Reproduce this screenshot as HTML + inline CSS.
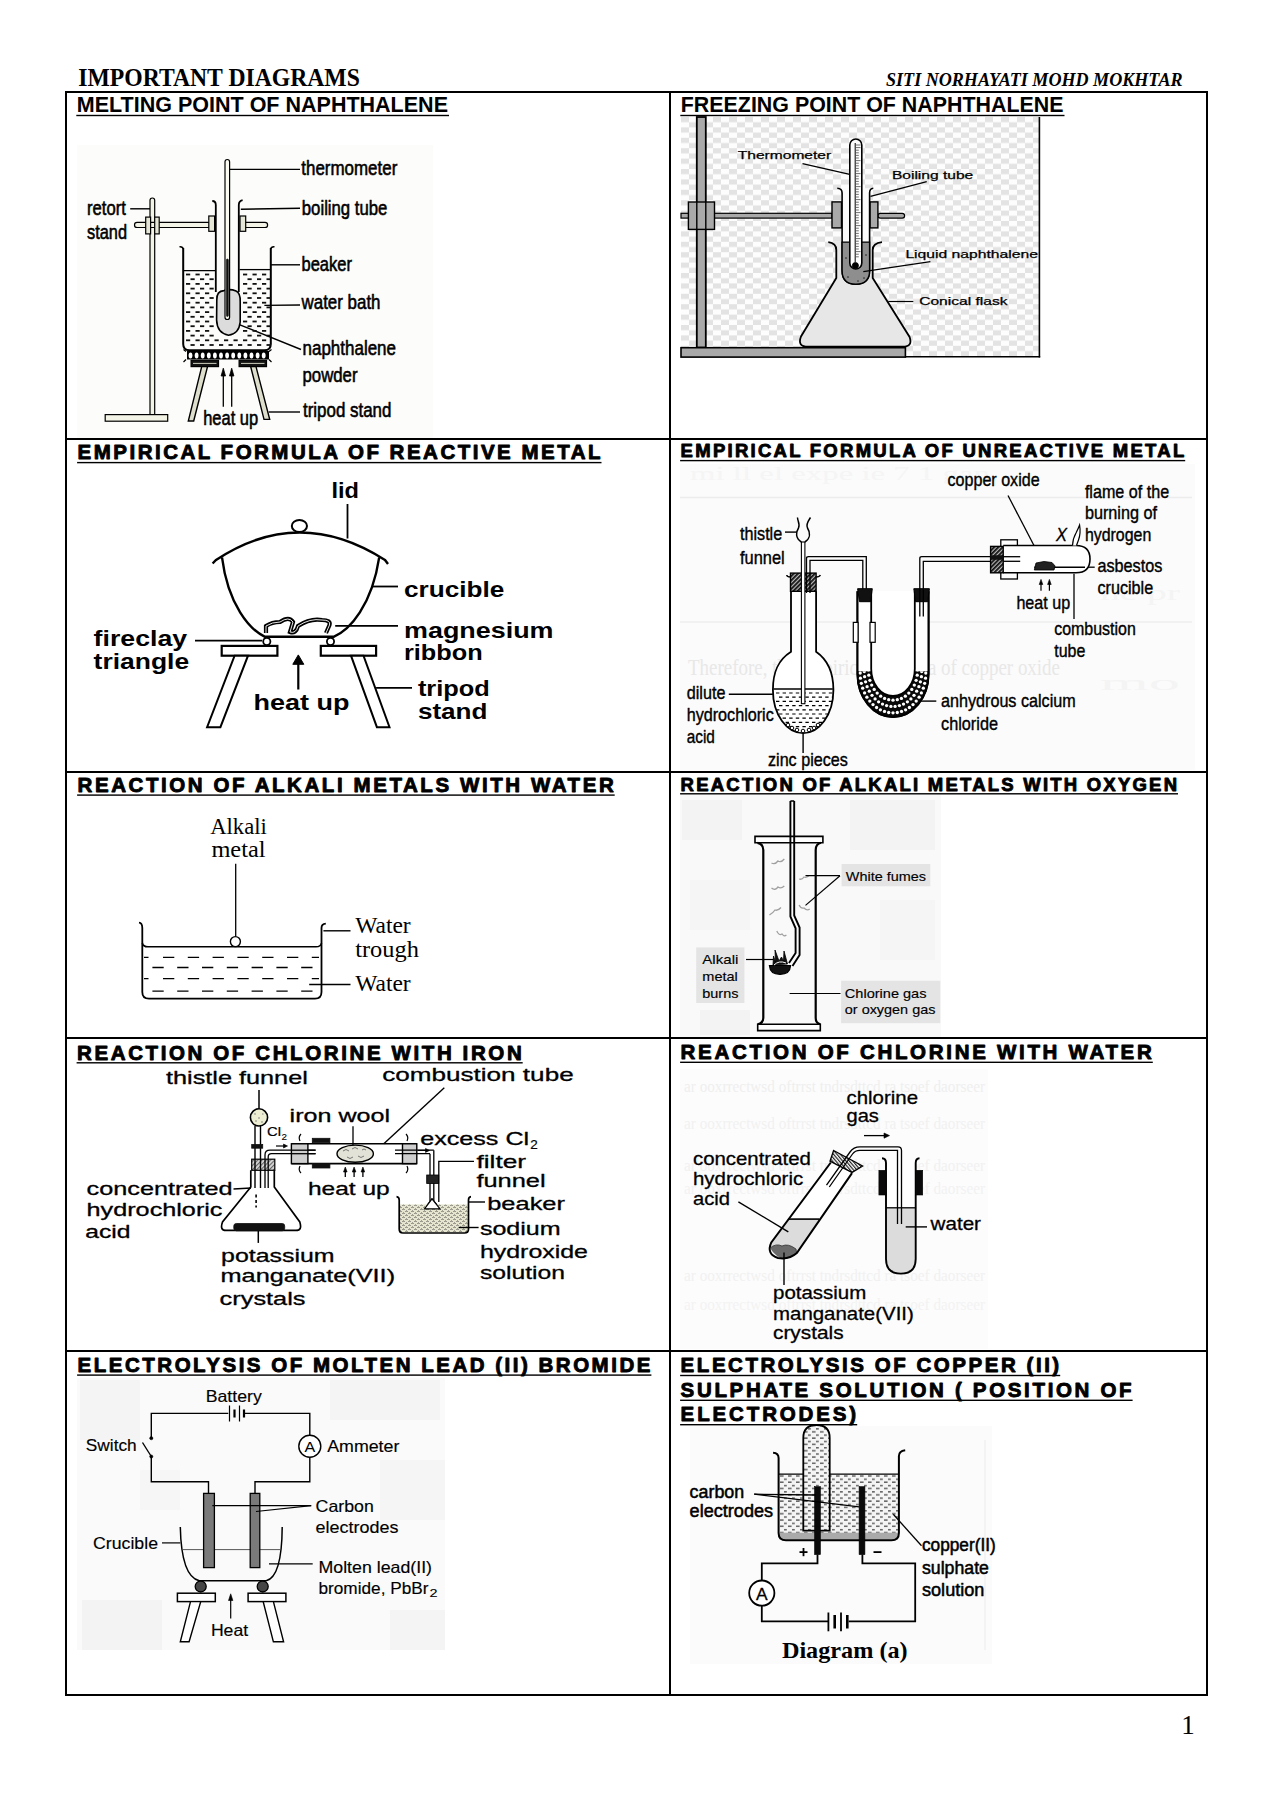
<!DOCTYPE html>
<html><head><meta charset="utf-8"><title>Important Diagrams</title>
<style>
html,body{margin:0;padding:0;background:#fff;}
body{width:1272px;height:1800px;position:relative;overflow:hidden;font-family:"Liberation Sans",sans-serif;}
.ln{position:absolute;background:#000;}
.hdr{position:absolute;font-family:"Liberation Serif",serif;font-weight:bold;white-space:nowrap;line-height:1;}
svg{position:absolute;left:0;top:0;}
</style></head><body>
<div class="ln" style="left:65px;top:91px;width:1143px;height:2px"></div>
<div class="ln" style="left:65px;top:1694px;width:1143px;height:2px"></div>
<div class="ln" style="left:65px;top:91px;width:2px;height:1605px"></div>
<div class="ln" style="left:1206px;top:91px;width:2px;height:1605px"></div>
<div class="ln" style="left:669px;top:91px;width:2px;height:1605px"></div>
<div class="ln" style="left:65px;top:438px;width:1143px;height:2px"></div>
<div class="ln" style="left:65px;top:771px;width:1143px;height:2px"></div>
<div class="ln" style="left:65px;top:1037px;width:1143px;height:2px"></div>
<div class="ln" style="left:65px;top:1350px;width:1143px;height:2px"></div>
<svg width="1272" height="1800" viewBox="0 0 1272 1800">
<text x="78.3" y="85.8" font-size="25.5" font-weight="bold" font-family='"Liberation Serif", serif' textLength="281.5" lengthAdjust="spacingAndGlyphs">IMPORTANT DIAGRAMS</text>
<text x="886" y="85.8" font-size="18.5" font-weight="bold" font-style="italic" font-family='"Liberation Serif", serif' textLength="296.5" lengthAdjust="spacingAndGlyphs">SITI NORHAYATI MOHD MOKHTAR</text>
<text x="1181.2" y="1734" font-size="27" font-family='"Liberation Serif", serif'>1</text>
<text x="76.8" y="112.2" font-size="21.8" font-weight="bold" font-family='"Liberation Sans", sans-serif' fill="#000" textLength="371.2" lengthAdjust="spacingAndGlyphs">MELTING POINT OF NAPHTHALENE</text>
<rect x="76.3" y="114.8" width="372.7" height="1.4" fill="#000"/>
<text x="680.8" y="112.2" font-size="21.8" font-weight="bold" font-family='"Liberation Sans", sans-serif' fill="#000" textLength="382.7" lengthAdjust="spacingAndGlyphs">FREEZING POINT OF NAPHTHALENE</text>
<rect x="680.3" y="114.8" width="384.2" height="1.4" fill="#000"/>
<text x="77.6" y="459.3" font-size="20.5" font-weight="bold" font-family='"Liberation Sans", sans-serif' fill="#000" stroke="#000" stroke-width="0.9" stroke-linejoin="round" textLength="522.9" lengthAdjust="spacing">EMPIRICAL FORMULA OF REACTIVE METAL</text>
<rect x="77.1" y="461.9" width="524.4" height="1.4" fill="#000"/>
<text x="680.6" y="457.3" font-size="18.5" font-weight="bold" font-family='"Liberation Sans", sans-serif' fill="#000" stroke="#000" stroke-width="0.9" stroke-linejoin="round" textLength="503.6" lengthAdjust="spacing">EMPIRICAL FORMULA OF UNREACTIVE METAL</text>
<rect x="680.1" y="459.9" width="505.1" height="1.4" fill="#000"/>
<text x="77.6" y="791.8" font-size="20.5" font-weight="bold" font-family='"Liberation Sans", sans-serif' fill="#000" stroke="#000" stroke-width="0.9" stroke-linejoin="round" textLength="536.1" lengthAdjust="spacing">REACTION OF ALKALI METALS WITH WATER</text>
<rect x="77.1" y="794.4" width="537.6" height="1.4" fill="#000"/>
<text x="680.6" y="790.5" font-size="18.5" font-weight="bold" font-family='"Liberation Sans", sans-serif' fill="#000" stroke="#000" stroke-width="0.9" stroke-linejoin="round" textLength="496.4" lengthAdjust="spacing">REACTION OF ALKALI METALS WITH OXYGEN</text>
<rect x="680.1" y="793.1" width="497.9" height="1.4" fill="#000"/>
<text x="77.1" y="1059.5" font-size="20.5" font-weight="bold" font-family='"Liberation Sans", sans-serif' fill="#000" stroke="#000" stroke-width="0.9" stroke-linejoin="round" textLength="444.6" lengthAdjust="spacing">REACTION OF CHLORINE WITH IRON</text>
<rect x="76.6" y="1062.1" width="446.1" height="1.4" fill="#000"/>
<text x="680.6" y="1059.0" font-size="20.5" font-weight="bold" font-family='"Liberation Sans", sans-serif' fill="#000" stroke="#000" stroke-width="0.9" stroke-linejoin="round" textLength="471.2" lengthAdjust="spacing">REACTION OF CHLORINE WITH WATER</text>
<rect x="680.1" y="1061.6" width="472.7" height="1.4" fill="#000"/>
<text x="77.6" y="1371.8" font-size="20.5" font-weight="bold" font-family='"Liberation Sans", sans-serif' fill="#000" stroke="#000" stroke-width="0.9" stroke-linejoin="round" textLength="572.8" lengthAdjust="spacing">ELECTROLYSIS OF MOLTEN LEAD (II) BROMIDE</text>
<rect x="77.1" y="1374.4" width="574.3" height="1.4" fill="#000"/>
<text x="680.6" y="1372.2" font-size="20.5" font-weight="bold" font-family='"Liberation Sans", sans-serif' fill="#000" stroke="#000" stroke-width="0.9" stroke-linejoin="round" textLength="378.6" lengthAdjust="spacing">ELECTROLYSIS OF COPPER (II)</text>
<rect x="680.1" y="1374.8" width="380.1" height="1.4" fill="#000"/>
<text x="680.6" y="1397.0" font-size="20.5" font-weight="bold" font-family='"Liberation Sans", sans-serif' fill="#000" stroke="#000" stroke-width="0.9" stroke-linejoin="round" textLength="451.0" lengthAdjust="spacing">SULPHATE SOLUTION ( POSITION OF</text>
<rect x="680.1" y="1399.6" width="452.5" height="1.4" fill="#000"/>
<text x="680.6" y="1421.4" font-size="20.5" font-weight="bold" font-family='"Liberation Sans", sans-serif' fill="#000" stroke="#000" stroke-width="0.9" stroke-linejoin="round" textLength="175.6" lengthAdjust="spacing">ELECTRODES)</text>
<rect x="680.1" y="1424.0" width="177.1" height="1.4" fill="#000"/>
<rect x="77" y="145" width="356" height="293" fill="#fcfcfa"/>
<text x="301.3" y="174.7" font-size="21" font-weight="normal" font-style="normal" font-family='"Liberation Sans", sans-serif' fill="#000" textLength="96.0" lengthAdjust="spacingAndGlyphs" stroke="#000" stroke-width="0.6" stroke-linejoin="round" >thermometer</text>
<text x="301.8" y="214.6" font-size="21" font-weight="normal" font-style="normal" font-family='"Liberation Sans", sans-serif' fill="#000" textLength="85.6" lengthAdjust="spacingAndGlyphs" stroke="#000" stroke-width="0.6" stroke-linejoin="round" >boiling tube</text>
<text x="301.5" y="270.7" font-size="21" font-weight="normal" font-style="normal" font-family='"Liberation Sans", sans-serif' fill="#000" textLength="50.5" lengthAdjust="spacingAndGlyphs" stroke="#000" stroke-width="0.6" stroke-linejoin="round" >beaker</text>
<text x="301.5" y="309.4" font-size="21" font-weight="normal" font-style="normal" font-family='"Liberation Sans", sans-serif' fill="#000" textLength="79.0" lengthAdjust="spacingAndGlyphs" stroke="#000" stroke-width="0.6" stroke-linejoin="round" >water bath</text>
<text x="302.5" y="354.6" font-size="21" font-weight="normal" font-style="normal" font-family='"Liberation Sans", sans-serif' fill="#000" textLength="93.5" lengthAdjust="spacingAndGlyphs" stroke="#000" stroke-width="0.6" stroke-linejoin="round" >naphthalene</text>
<text x="302.5" y="382.0" font-size="21" font-weight="normal" font-style="normal" font-family='"Liberation Sans", sans-serif' fill="#000" textLength="55.0" lengthAdjust="spacingAndGlyphs" stroke="#000" stroke-width="0.6" stroke-linejoin="round" >powder</text>
<text x="303.0" y="416.6" font-size="21" font-weight="normal" font-style="normal" font-family='"Liberation Sans", sans-serif' fill="#000" textLength="88.4" lengthAdjust="spacingAndGlyphs" stroke="#000" stroke-width="0.6" stroke-linejoin="round" >tripod stand</text>
<text x="87.0" y="215.4" font-size="21" font-weight="normal" font-style="normal" font-family='"Liberation Sans", sans-serif' fill="#000" textLength="38.8" lengthAdjust="spacingAndGlyphs" stroke="#000" stroke-width="0.6" stroke-linejoin="round" >retort</text>
<text x="87.0" y="239.0" font-size="21" font-weight="normal" font-style="normal" font-family='"Liberation Sans", sans-serif' fill="#000" textLength="40.0" lengthAdjust="spacingAndGlyphs" stroke="#000" stroke-width="0.6" stroke-linejoin="round" >stand</text>
<text x="203.2" y="425.2" font-size="21" font-weight="normal" font-style="normal" font-family='"Liberation Sans", sans-serif' fill="#000" textLength="55.0" lengthAdjust="spacingAndGlyphs" stroke="#000" stroke-width="0.6" stroke-linejoin="round" >heat up</text>
<line x1="229.6" y1="169.4" x2="300.0" y2="169.4" stroke="#000" stroke-width="1.4" />
<line x1="240.8" y1="209.2" x2="300.0" y2="208.2" stroke="#000" stroke-width="1.4" />
<line x1="130.2" y1="208.8" x2="150.0" y2="208.8" stroke="#000" stroke-width="1.4" />
<line x1="270.8" y1="264.8" x2="300.0" y2="264.8" stroke="#000" stroke-width="1.4" />
<line x1="264.4" y1="305.4" x2="300.0" y2="305.0" stroke="#000" stroke-width="1.4" />
<line x1="232.3" y1="321.8" x2="301.0" y2="349.5" stroke="#000" stroke-width="1.4" />
<line x1="268.7" y1="412.0" x2="300.0" y2="412.0" stroke="#000" stroke-width="1.4" />
<rect x="150.0" y="198.0" width="4.7" height="218.0" fill="#f3f3e6" stroke="#000" stroke-width="1.2" rx="2.3"/>
<rect x="105.2" y="414.6" width="62.5" height="6.6" fill="#f3f3e6" stroke="#000" stroke-width="1.2" />
<rect x="134.5" y="222.3" width="76.0" height="5.2" fill="#f3f3e6" stroke="#000" stroke-width="1.2" rx="2.6"/>
<rect x="243.0" y="222.3" width="24.6" height="5.2" fill="#f3f3e6" stroke="#000" stroke-width="1.2" rx="2.6"/>
<rect x="145.7" y="217.1" width="4.9" height="16.8" fill="#e6e6d6" stroke="#000" stroke-width="1.2" />
<rect x="154.7" y="217.1" width="4.5" height="16.8" fill="#e6e6d6" stroke="#000" stroke-width="1.2" />
<rect x="208.8" y="216.0" width="5.8" height="15.3" fill="#e6e6d6" stroke="#000" stroke-width="1.2" />
<rect x="240.0" y="216.0" width="5.7" height="15.3" fill="#e6e6d6" stroke="#000" stroke-width="1.2" />
<path d="M183.2,248 L183.2,344 Q183.2,350.3 189.5,350.3 L264.5,350.3 Q270.8,350.3 270.8,344 L270.8,248" stroke="#000" stroke-width="2.0" fill="none" />
<path d="M183.2,249 Q182.8,246.5 179.5,246.8" stroke="#000" stroke-width="1.4" fill="none" />
<path d="M270.8,249 Q271.2,246.5 274.5,246.8" stroke="#000" stroke-width="1.4" fill="none" />
<line x1="183.2" y1="270.6" x2="215.9" y2="270.6" stroke="#000" stroke-width="1.3" />
<line x1="239.6" y1="269.6" x2="270.8" y2="269.6" stroke="#000" stroke-width="1.3" />
<line x1="186.0" y1="274.5" x2="190.2" y2="274.5" stroke="#111" stroke-width="1.8" />
<line x1="195.5" y1="274.5" x2="199.7" y2="274.5" stroke="#111" stroke-width="1.8" />
<line x1="205.0" y1="274.5" x2="209.2" y2="274.5" stroke="#111" stroke-width="1.8" />
<line x1="243.0" y1="274.5" x2="247.2" y2="274.5" stroke="#111" stroke-width="1.8" />
<line x1="252.5" y1="274.5" x2="256.7" y2="274.5" stroke="#111" stroke-width="1.8" />
<line x1="262.0" y1="274.5" x2="266.2" y2="274.5" stroke="#111" stroke-width="1.8" />
<line x1="190.5" y1="279.2" x2="194.7" y2="279.2" stroke="#111" stroke-width="1.8" />
<line x1="200.0" y1="279.2" x2="204.2" y2="279.2" stroke="#111" stroke-width="1.8" />
<line x1="209.5" y1="279.2" x2="213.7" y2="279.2" stroke="#111" stroke-width="1.8" />
<line x1="247.5" y1="279.2" x2="251.7" y2="279.2" stroke="#111" stroke-width="1.8" />
<line x1="257.0" y1="279.2" x2="261.2" y2="279.2" stroke="#111" stroke-width="1.8" />
<line x1="266.5" y1="279.2" x2="270.7" y2="279.2" stroke="#111" stroke-width="1.8" />
<line x1="186.0" y1="283.9" x2="190.2" y2="283.9" stroke="#111" stroke-width="1.8" />
<line x1="195.5" y1="283.9" x2="199.7" y2="283.9" stroke="#111" stroke-width="1.8" />
<line x1="205.0" y1="283.9" x2="209.2" y2="283.9" stroke="#111" stroke-width="1.8" />
<line x1="243.0" y1="283.9" x2="247.2" y2="283.9" stroke="#111" stroke-width="1.8" />
<line x1="252.5" y1="283.9" x2="256.7" y2="283.9" stroke="#111" stroke-width="1.8" />
<line x1="262.0" y1="283.9" x2="266.2" y2="283.9" stroke="#111" stroke-width="1.8" />
<line x1="190.5" y1="288.6" x2="194.7" y2="288.6" stroke="#111" stroke-width="1.8" />
<line x1="200.0" y1="288.6" x2="204.2" y2="288.6" stroke="#111" stroke-width="1.8" />
<line x1="209.5" y1="288.6" x2="213.7" y2="288.6" stroke="#111" stroke-width="1.8" />
<line x1="247.5" y1="288.6" x2="251.7" y2="288.6" stroke="#111" stroke-width="1.8" />
<line x1="257.0" y1="288.6" x2="261.2" y2="288.6" stroke="#111" stroke-width="1.8" />
<line x1="266.5" y1="288.6" x2="270.7" y2="288.6" stroke="#111" stroke-width="1.8" />
<line x1="186.0" y1="293.3" x2="190.2" y2="293.3" stroke="#111" stroke-width="1.8" />
<line x1="195.5" y1="293.3" x2="199.7" y2="293.3" stroke="#111" stroke-width="1.8" />
<line x1="205.0" y1="293.3" x2="209.2" y2="293.3" stroke="#111" stroke-width="1.8" />
<line x1="243.0" y1="293.3" x2="247.2" y2="293.3" stroke="#111" stroke-width="1.8" />
<line x1="252.5" y1="293.3" x2="256.7" y2="293.3" stroke="#111" stroke-width="1.8" />
<line x1="262.0" y1="293.3" x2="266.2" y2="293.3" stroke="#111" stroke-width="1.8" />
<line x1="190.5" y1="298.0" x2="194.7" y2="298.0" stroke="#111" stroke-width="1.8" />
<line x1="200.0" y1="298.0" x2="204.2" y2="298.0" stroke="#111" stroke-width="1.8" />
<line x1="209.5" y1="298.0" x2="213.7" y2="298.0" stroke="#111" stroke-width="1.8" />
<line x1="247.5" y1="298.0" x2="251.7" y2="298.0" stroke="#111" stroke-width="1.8" />
<line x1="257.0" y1="298.0" x2="261.2" y2="298.0" stroke="#111" stroke-width="1.8" />
<line x1="266.5" y1="298.0" x2="270.7" y2="298.0" stroke="#111" stroke-width="1.8" />
<line x1="186.0" y1="302.7" x2="190.2" y2="302.7" stroke="#111" stroke-width="1.8" />
<line x1="195.5" y1="302.7" x2="199.7" y2="302.7" stroke="#111" stroke-width="1.8" />
<line x1="205.0" y1="302.7" x2="209.2" y2="302.7" stroke="#111" stroke-width="1.8" />
<line x1="243.0" y1="302.7" x2="247.2" y2="302.7" stroke="#111" stroke-width="1.8" />
<line x1="252.5" y1="302.7" x2="256.7" y2="302.7" stroke="#111" stroke-width="1.8" />
<line x1="262.0" y1="302.7" x2="266.2" y2="302.7" stroke="#111" stroke-width="1.8" />
<line x1="190.5" y1="307.4" x2="194.7" y2="307.4" stroke="#111" stroke-width="1.8" />
<line x1="200.0" y1="307.4" x2="204.2" y2="307.4" stroke="#111" stroke-width="1.8" />
<line x1="209.5" y1="307.4" x2="213.7" y2="307.4" stroke="#111" stroke-width="1.8" />
<line x1="247.5" y1="307.4" x2="251.7" y2="307.4" stroke="#111" stroke-width="1.8" />
<line x1="257.0" y1="307.4" x2="261.2" y2="307.4" stroke="#111" stroke-width="1.8" />
<line x1="266.5" y1="307.4" x2="270.7" y2="307.4" stroke="#111" stroke-width="1.8" />
<line x1="186.0" y1="312.1" x2="190.2" y2="312.1" stroke="#111" stroke-width="1.8" />
<line x1="195.5" y1="312.1" x2="199.7" y2="312.1" stroke="#111" stroke-width="1.8" />
<line x1="205.0" y1="312.1" x2="209.2" y2="312.1" stroke="#111" stroke-width="1.8" />
<line x1="243.0" y1="312.1" x2="247.2" y2="312.1" stroke="#111" stroke-width="1.8" />
<line x1="252.5" y1="312.1" x2="256.7" y2="312.1" stroke="#111" stroke-width="1.8" />
<line x1="262.0" y1="312.1" x2="266.2" y2="312.1" stroke="#111" stroke-width="1.8" />
<line x1="190.5" y1="316.8" x2="194.7" y2="316.8" stroke="#111" stroke-width="1.8" />
<line x1="200.0" y1="316.8" x2="204.2" y2="316.8" stroke="#111" stroke-width="1.8" />
<line x1="209.5" y1="316.8" x2="213.7" y2="316.8" stroke="#111" stroke-width="1.8" />
<line x1="247.5" y1="316.8" x2="251.7" y2="316.8" stroke="#111" stroke-width="1.8" />
<line x1="257.0" y1="316.8" x2="261.2" y2="316.8" stroke="#111" stroke-width="1.8" />
<line x1="266.5" y1="316.8" x2="270.7" y2="316.8" stroke="#111" stroke-width="1.8" />
<line x1="186.0" y1="321.5" x2="190.2" y2="321.5" stroke="#111" stroke-width="1.8" />
<line x1="195.5" y1="321.5" x2="199.7" y2="321.5" stroke="#111" stroke-width="1.8" />
<line x1="205.0" y1="321.5" x2="209.2" y2="321.5" stroke="#111" stroke-width="1.8" />
<line x1="243.0" y1="321.5" x2="247.2" y2="321.5" stroke="#111" stroke-width="1.8" />
<line x1="252.5" y1="321.5" x2="256.7" y2="321.5" stroke="#111" stroke-width="1.8" />
<line x1="262.0" y1="321.5" x2="266.2" y2="321.5" stroke="#111" stroke-width="1.8" />
<line x1="190.5" y1="326.2" x2="194.7" y2="326.2" stroke="#111" stroke-width="1.8" />
<line x1="200.0" y1="326.2" x2="204.2" y2="326.2" stroke="#111" stroke-width="1.8" />
<line x1="209.5" y1="326.2" x2="213.7" y2="326.2" stroke="#111" stroke-width="1.8" />
<line x1="247.5" y1="326.2" x2="251.7" y2="326.2" stroke="#111" stroke-width="1.8" />
<line x1="257.0" y1="326.2" x2="261.2" y2="326.2" stroke="#111" stroke-width="1.8" />
<line x1="266.5" y1="326.2" x2="270.7" y2="326.2" stroke="#111" stroke-width="1.8" />
<line x1="186.0" y1="330.9" x2="190.2" y2="330.9" stroke="#111" stroke-width="1.8" />
<line x1="195.5" y1="330.9" x2="199.7" y2="330.9" stroke="#111" stroke-width="1.8" />
<line x1="205.0" y1="330.9" x2="209.2" y2="330.9" stroke="#111" stroke-width="1.8" />
<line x1="243.0" y1="330.9" x2="247.2" y2="330.9" stroke="#111" stroke-width="1.8" />
<line x1="252.5" y1="330.9" x2="256.7" y2="330.9" stroke="#111" stroke-width="1.8" />
<line x1="262.0" y1="330.9" x2="266.2" y2="330.9" stroke="#111" stroke-width="1.8" />
<line x1="190.5" y1="335.6" x2="194.7" y2="335.6" stroke="#111" stroke-width="1.8" />
<line x1="200.0" y1="335.6" x2="204.2" y2="335.6" stroke="#111" stroke-width="1.8" />
<line x1="209.5" y1="335.6" x2="213.7" y2="335.6" stroke="#111" stroke-width="1.8" />
<line x1="247.5" y1="335.6" x2="251.7" y2="335.6" stroke="#111" stroke-width="1.8" />
<line x1="257.0" y1="335.6" x2="261.2" y2="335.6" stroke="#111" stroke-width="1.8" />
<line x1="266.5" y1="335.6" x2="270.7" y2="335.6" stroke="#111" stroke-width="1.8" />
<line x1="186.0" y1="340.3" x2="190.2" y2="340.3" stroke="#111" stroke-width="1.8" />
<line x1="195.5" y1="340.3" x2="199.7" y2="340.3" stroke="#111" stroke-width="1.8" />
<line x1="205.0" y1="340.3" x2="209.2" y2="340.3" stroke="#111" stroke-width="1.8" />
<line x1="214.5" y1="340.3" x2="218.7" y2="340.3" stroke="#111" stroke-width="1.8" />
<line x1="224.0" y1="340.3" x2="228.2" y2="340.3" stroke="#111" stroke-width="1.8" />
<line x1="233.5" y1="340.3" x2="237.7" y2="340.3" stroke="#111" stroke-width="1.8" />
<line x1="243.0" y1="340.3" x2="247.2" y2="340.3" stroke="#111" stroke-width="1.8" />
<line x1="252.5" y1="340.3" x2="256.7" y2="340.3" stroke="#111" stroke-width="1.8" />
<line x1="262.0" y1="340.3" x2="266.2" y2="340.3" stroke="#111" stroke-width="1.8" />
<line x1="190.5" y1="345.0" x2="194.7" y2="345.0" stroke="#111" stroke-width="1.8" />
<line x1="200.0" y1="345.0" x2="204.2" y2="345.0" stroke="#111" stroke-width="1.8" />
<line x1="209.5" y1="345.0" x2="213.7" y2="345.0" stroke="#111" stroke-width="1.8" />
<line x1="219.0" y1="345.0" x2="223.2" y2="345.0" stroke="#111" stroke-width="1.8" />
<line x1="228.5" y1="345.0" x2="232.7" y2="345.0" stroke="#111" stroke-width="1.8" />
<line x1="238.0" y1="345.0" x2="242.2" y2="345.0" stroke="#111" stroke-width="1.8" />
<line x1="247.5" y1="345.0" x2="251.7" y2="345.0" stroke="#111" stroke-width="1.8" />
<line x1="257.0" y1="345.0" x2="261.2" y2="345.0" stroke="#111" stroke-width="1.8" />
<line x1="266.5" y1="345.0" x2="270.7" y2="345.0" stroke="#111" stroke-width="1.8" />
<path d="M212.3,201 Q215.8,201 215.8,205 L215.8,292" stroke="#000" stroke-width="1.8" fill="none" />
<path d="M242.6,200.2 Q238.8,201 238.8,205 L238.8,292" stroke="#000" stroke-width="1.8" fill="none" />
<path d="M216.8,300 Q216.4,291 224,290.6 Q230,288.5 236,291 Q240.6,293 240.2,302 L240.2,322 Q239,334 228.5,335.2 Q217,333 216.6,320 Z" stroke="#000" stroke-width="1.6" fill="#dcdcdc" />
<rect x="225.0" y="159.5" width="4.6" height="160.0" fill="#fbfbf2" stroke="#000" stroke-width="1.2" rx="2.3"/>
<rect x="226.4" y="259.0" width="2.0" height="57.5" fill="#111" stroke="#111" stroke-width="0.6" rx="1"/>
<rect x="187" y="351" width="82" height="8.5" fill="#000"/>
<ellipse cx="190.5" cy="355.6" rx="1.9" ry="3.0" fill="#fff"/><ellipse cx="196.6" cy="355.6" rx="1.9" ry="3.0" fill="#fff"/><ellipse cx="202.7" cy="355.6" rx="1.9" ry="3.0" fill="#fff"/><ellipse cx="208.8" cy="355.6" rx="1.9" ry="3.0" fill="#fff"/><ellipse cx="214.9" cy="355.6" rx="1.9" ry="3.0" fill="#fff"/><ellipse cx="221.0" cy="355.6" rx="1.9" ry="3.0" fill="#fff"/><ellipse cx="227.1" cy="355.6" rx="1.9" ry="3.0" fill="#fff"/><ellipse cx="233.2" cy="355.6" rx="1.9" ry="3.0" fill="#fff"/><ellipse cx="239.3" cy="355.6" rx="1.9" ry="3.0" fill="#fff"/><ellipse cx="245.4" cy="355.6" rx="1.9" ry="3.0" fill="#fff"/><ellipse cx="251.5" cy="355.6" rx="1.9" ry="3.0" fill="#fff"/><ellipse cx="257.6" cy="355.6" rx="1.9" ry="3.0" fill="#fff"/><ellipse cx="263.7" cy="355.6" rx="1.9" ry="3.0" fill="#fff"/>
<path d="M186,359.5 L183.5,362 M269,359.5 L271.5,362 M186,351.5 L183.5,349.5 M269,351.5 L271.5,349.5" stroke="#000" stroke-width="1.2" fill="none" />
<rect x="191.1" y="360.3" width="27.4" height="6.3" fill="#111" stroke="#000" stroke-width="1.2" />
<rect x="239.1" y="360.3" width="27.4" height="6.3" fill="#111" stroke="#000" stroke-width="1.2" />
<line x1="193.0" y1="363.4" x2="216.5" y2="363.4" stroke="#cfcfbf" stroke-width="1.0" />
<line x1="241.0" y1="363.4" x2="264.5" y2="363.4" stroke="#cfcfbf" stroke-width="1.0" />
<path d="M201.7,366.6 L207.5,366.6 L193.7,421 L188.3,421 Z" stroke="#000" stroke-width="1.4" fill="#dedecc" />
<path d="M250.7,366.6 L256,366.6 L269.7,419.4 L264,419.4 Z" stroke="#000" stroke-width="1.4" fill="#dedecc" />
<line x1="223.3" y1="406.7" x2="223.3" y2="374.0" stroke="#000" stroke-width="1.3" />
<path d="M221.10000000000002,376 L223.3,368.2 L225.5,376 Z" stroke="#000" stroke-width="0.8" fill="#000" />
<line x1="231.7" y1="406.7" x2="231.7" y2="374.0" stroke="#000" stroke-width="1.3" />
<path d="M229.5,376 L231.7,368.2 L233.89999999999998,376 Z" stroke="#000" stroke-width="0.8" fill="#000" />
<defs><pattern id="chk" x="681" y="117" width="16" height="10.4" patternUnits="userSpaceOnUse"><rect x="0" y="0" width="16" height="10.4" fill="#fdfdfd"/><rect x="0" y="0" width="8" height="5.2" fill="#e3e3e3"/><rect x="8" y="5.2" width="8" height="5.2" fill="#e3e3e3"/></pattern></defs>
<rect x="681" y="117" width="358.4" height="240" fill="url(#chk)"/>
<line x1="1039.4" y1="117.0" x2="1039.4" y2="357.5" stroke="#000" stroke-width="1.6" />
<line x1="905.0" y1="356.8" x2="1040.2" y2="356.8" stroke="#000" stroke-width="1.4" />
<rect x="696.8" y="117.0" width="9.0" height="230.5" fill="#a9a9a9" stroke="#000" stroke-width="1.8" />
<rect x="681.0" y="347.7" width="224.4" height="9.4" fill="#a9a9a9" stroke="#000" stroke-width="1.6" />
<rect x="681.0" y="213.3" width="151.0" height="4.8" fill="#a9a9a9" stroke="#000" stroke-width="1.2" />
<rect x="877.9" y="213.3" width="26.7" height="4.8" fill="#a9a9a9" stroke="#000" stroke-width="1.2" rx="2.4"/>
<rect x="688.4" y="202.0" width="26.1" height="27.4" fill="#a9a9a9" stroke="#000" stroke-width="1.4" />
<line x1="696.8" y1="202.0" x2="696.8" y2="229.4" stroke="#000" stroke-width="1.4" />
<line x1="705.8" y1="202.0" x2="705.8" y2="229.4" stroke="#000" stroke-width="1.4" />
<rect x="832.0" y="201.9" width="9.5" height="26.0" fill="#a9a9a9" stroke="#000" stroke-width="1.4" />
<rect x="870.0" y="201.9" width="7.9" height="26.0" fill="#a9a9a9" stroke="#000" stroke-width="1.4" />
<path d="M828.3,242.1 Q836.3,243 836.3,250 L836.3,277.9 L801,336.5 Q797,346.7 808,346.7 L902.9,346.7 Q913,346.7 909.6,337 L872.7,277.9 L872.7,250 Q872.7,243 882,242.1" stroke="#000" stroke-width="1.8" fill="#e7e7e7" />
<path d="M837.3,188.3 Q842.1,188.5 842.1,193 L842.1,270.5 Q842.1,284.2 855.8,284.2 Q869.6,284.2 869.6,270.5 L869.6,193 Q869.6,188.5 873.3,188.3" stroke="#000" stroke-width="1.6" fill="#fbfbfb" />
<path d="M842.1,242.1 L869.6,242.1 L869.6,270.5 Q869.6,284.2 855.8,284.2 Q842.1,284.2 842.1,270.5 Z" stroke="#000" stroke-width="1.4" fill="#8e8e8e" />
<circle cx="846.0" cy="258.0" r="0.6" fill="#333" stroke="#333" stroke-width="0.5" />
<circle cx="866.0" cy="255.0" r="0.6" fill="#333" stroke="#333" stroke-width="0.5" />
<circle cx="848.0" cy="277.0" r="0.6" fill="#333" stroke="#333" stroke-width="0.5" />
<circle cx="864.0" cy="278.0" r="0.6" fill="#333" stroke="#333" stroke-width="0.5" />
<circle cx="858.0" cy="281.0" r="0.6" fill="#333" stroke="#333" stroke-width="0.5" />
<circle cx="851.0" cy="266.0" r="0.6" fill="#333" stroke="#333" stroke-width="0.5" />
<rect x="849.8" y="139.0" width="12.0" height="130.0" fill="#fdfdfd" stroke="#000" stroke-width="1.6" rx="6"/>
<line x1="855.2" y1="143.0" x2="855.2" y2="262.0" stroke="#000" stroke-width="1.0" />
<line x1="856.0" y1="145.0" x2="860.5" y2="145.0" stroke="#333" stroke-width="0.7" />
<line x1="856.0" y1="147.6" x2="860.5" y2="147.6" stroke="#333" stroke-width="0.7" />
<line x1="856.0" y1="150.2" x2="858.8" y2="150.2" stroke="#333" stroke-width="0.7" />
<line x1="856.0" y1="152.8" x2="858.8" y2="152.8" stroke="#333" stroke-width="0.7" />
<line x1="856.0" y1="155.4" x2="858.8" y2="155.4" stroke="#333" stroke-width="0.7" />
<line x1="856.0" y1="158.0" x2="858.8" y2="158.0" stroke="#333" stroke-width="0.7" />
<line x1="856.0" y1="160.6" x2="860.5" y2="160.6" stroke="#333" stroke-width="0.7" />
<line x1="856.0" y1="163.2" x2="858.8" y2="163.2" stroke="#333" stroke-width="0.7" />
<line x1="856.0" y1="165.8" x2="858.8" y2="165.8" stroke="#333" stroke-width="0.7" />
<line x1="856.0" y1="168.4" x2="858.8" y2="168.4" stroke="#333" stroke-width="0.7" />
<line x1="856.0" y1="171.0" x2="858.8" y2="171.0" stroke="#333" stroke-width="0.7" />
<line x1="856.0" y1="173.6" x2="860.5" y2="173.6" stroke="#333" stroke-width="0.7" />
<line x1="856.0" y1="176.2" x2="858.8" y2="176.2" stroke="#333" stroke-width="0.7" />
<line x1="856.0" y1="178.8" x2="858.8" y2="178.8" stroke="#333" stroke-width="0.7" />
<line x1="856.0" y1="181.4" x2="858.8" y2="181.4" stroke="#333" stroke-width="0.7" />
<line x1="856.0" y1="184.0" x2="858.8" y2="184.0" stroke="#333" stroke-width="0.7" />
<line x1="856.0" y1="186.6" x2="860.5" y2="186.6" stroke="#333" stroke-width="0.7" />
<line x1="856.0" y1="189.2" x2="858.8" y2="189.2" stroke="#333" stroke-width="0.7" />
<line x1="856.0" y1="191.8" x2="858.8" y2="191.8" stroke="#333" stroke-width="0.7" />
<line x1="856.0" y1="194.4" x2="858.8" y2="194.4" stroke="#333" stroke-width="0.7" />
<line x1="856.0" y1="197.0" x2="858.8" y2="197.0" stroke="#333" stroke-width="0.7" />
<line x1="856.0" y1="199.6" x2="860.5" y2="199.6" stroke="#333" stroke-width="0.7" />
<line x1="856.0" y1="202.2" x2="858.8" y2="202.2" stroke="#333" stroke-width="0.7" />
<line x1="856.0" y1="204.8" x2="858.8" y2="204.8" stroke="#333" stroke-width="0.7" />
<line x1="856.0" y1="207.4" x2="858.8" y2="207.4" stroke="#333" stroke-width="0.7" />
<line x1="856.0" y1="210.0" x2="858.8" y2="210.0" stroke="#333" stroke-width="0.7" />
<line x1="856.0" y1="212.6" x2="860.5" y2="212.6" stroke="#333" stroke-width="0.7" />
<line x1="856.0" y1="215.2" x2="858.8" y2="215.2" stroke="#333" stroke-width="0.7" />
<line x1="856.0" y1="217.8" x2="858.8" y2="217.8" stroke="#333" stroke-width="0.7" />
<line x1="856.0" y1="220.4" x2="858.8" y2="220.4" stroke="#333" stroke-width="0.7" />
<line x1="856.0" y1="223.0" x2="858.8" y2="223.0" stroke="#333" stroke-width="0.7" />
<line x1="856.0" y1="225.6" x2="860.5" y2="225.6" stroke="#333" stroke-width="0.7" />
<line x1="856.0" y1="228.2" x2="858.8" y2="228.2" stroke="#333" stroke-width="0.7" />
<line x1="856.0" y1="230.8" x2="858.8" y2="230.8" stroke="#333" stroke-width="0.7" />
<line x1="856.0" y1="233.4" x2="858.8" y2="233.4" stroke="#333" stroke-width="0.7" />
<line x1="856.0" y1="236.0" x2="858.8" y2="236.0" stroke="#333" stroke-width="0.7" />
<line x1="856.0" y1="238.6" x2="860.5" y2="238.6" stroke="#333" stroke-width="0.7" />
<line x1="856.0" y1="241.2" x2="858.8" y2="241.2" stroke="#333" stroke-width="0.7" />
<line x1="856.0" y1="243.8" x2="858.8" y2="243.8" stroke="#333" stroke-width="0.7" />
<line x1="856.0" y1="246.4" x2="858.8" y2="246.4" stroke="#333" stroke-width="0.7" />
<line x1="856.0" y1="249.0" x2="858.8" y2="249.0" stroke="#333" stroke-width="0.7" />
<line x1="856.0" y1="251.6" x2="860.5" y2="251.6" stroke="#333" stroke-width="0.7" />
<line x1="856.0" y1="254.2" x2="858.8" y2="254.2" stroke="#333" stroke-width="0.7" />
<line x1="856.0" y1="256.8" x2="858.8" y2="256.8" stroke="#333" stroke-width="0.7" />
<circle cx="855.4" cy="265.6" r="3.0" fill="#000" stroke="#000" stroke-width="1" />
<text x="737.8" y="158.8" font-size="11" font-weight="normal" font-style="normal" font-family='"Liberation Sans", sans-serif' fill="#000" textLength="93.4" lengthAdjust="spacingAndGlyphs" stroke="#000" stroke-width="0.25" stroke-linejoin="round" >Thermometer</text>
<text x="891.9" y="178.8" font-size="11" font-weight="normal" font-style="normal" font-family='"Liberation Sans", sans-serif' fill="#000" textLength="81.4" lengthAdjust="spacingAndGlyphs" stroke="#000" stroke-width="0.25" stroke-linejoin="round" >Boiling tube</text>
<text x="905.4" y="257.5" font-size="11" font-weight="normal" font-style="normal" font-family='"Liberation Sans", sans-serif' fill="#000" textLength="132.5" lengthAdjust="spacingAndGlyphs" stroke="#000" stroke-width="0.25" stroke-linejoin="round" >Liquid naphthalene</text>
<text x="919.2" y="305.0" font-size="11" font-weight="normal" font-style="normal" font-family='"Liberation Sans", sans-serif' fill="#000" textLength="88.3" lengthAdjust="spacingAndGlyphs" stroke="#000" stroke-width="0.25" stroke-linejoin="round" >Conical flask</text>
<line x1="802.5" y1="163.7" x2="849.7" y2="174.4" stroke="#000" stroke-width="1.2" />
<line x1="926.7" y1="181.6" x2="870.5" y2="196.4" stroke="#000" stroke-width="1.2" />
<line x1="930.4" y1="261.7" x2="863.3" y2="271.7" stroke="#000" stroke-width="1.2" />
<line x1="888.3" y1="301.5" x2="913.3" y2="301.5" stroke="#000" stroke-width="1.2" />
<text x="331.4" y="498.4" font-size="22" font-weight="bold" font-style="normal" font-family='"Liberation Sans", sans-serif' fill="#000" textLength="27.5" lengthAdjust="spacingAndGlyphs" >lid</text>
<text x="404.0" y="596.7" font-size="22" font-weight="bold" font-style="normal" font-family='"Liberation Sans", sans-serif' fill="#000" textLength="100.4" lengthAdjust="spacingAndGlyphs" >crucible</text>
<text x="404.0" y="638.0" font-size="22" font-weight="bold" font-style="normal" font-family='"Liberation Sans", sans-serif' fill="#000" textLength="149.5" lengthAdjust="spacingAndGlyphs" >magnesium</text>
<text x="404.0" y="660.4" font-size="22" font-weight="bold" font-style="normal" font-family='"Liberation Sans", sans-serif' fill="#000" textLength="78.7" lengthAdjust="spacingAndGlyphs" >ribbon</text>
<text x="93.6" y="645.8" font-size="22" font-weight="bold" font-style="normal" font-family='"Liberation Sans", sans-serif' fill="#000" textLength="93.5" lengthAdjust="spacingAndGlyphs" >fireclay</text>
<text x="93.6" y="669.4" font-size="22" font-weight="bold" font-style="normal" font-family='"Liberation Sans", sans-serif' fill="#000" textLength="95.5" lengthAdjust="spacingAndGlyphs" >triangle</text>
<text x="253.5" y="709.9" font-size="22" font-weight="bold" font-style="normal" font-family='"Liberation Sans", sans-serif' fill="#000" textLength="96.0" lengthAdjust="spacingAndGlyphs" >heat up</text>
<text x="417.9" y="695.5" font-size="22" font-weight="bold" font-style="normal" font-family='"Liberation Sans", sans-serif' fill="#000" textLength="71.9" lengthAdjust="spacingAndGlyphs" >tripod</text>
<text x="417.9" y="718.5" font-size="22" font-weight="bold" font-style="normal" font-family='"Liberation Sans", sans-serif' fill="#000" textLength="69.6" lengthAdjust="spacingAndGlyphs" >stand</text>
<line x1="347.5" y1="504.0" x2="347.5" y2="538.5" stroke="#000" stroke-width="1.8" />
<line x1="373.0" y1="586.5" x2="398.0" y2="586.5" stroke="#000" stroke-width="1.8" />
<line x1="335.2" y1="625.8" x2="398.0" y2="625.8" stroke="#000" stroke-width="1.8" />
<line x1="195.0" y1="640.7" x2="262.1" y2="640.7" stroke="#000" stroke-width="1.8" />
<line x1="376.1" y1="687.9" x2="412.0" y2="687.9" stroke="#000" stroke-width="1.8" />
<path d="M212.6,563.5 L216,560 Q299,505 385,560 L388,564" stroke="#000" stroke-width="2.4" fill="none" />
<ellipse cx="299.4" cy="526" rx="7.6" ry="5.9" fill="#fff" stroke="#000" stroke-width="2"/>
<path d="M222,557.4 C228,605 250,630 265,636.8 L333.6,636.8 C350,630 372,605 379.2,557.4" stroke="#000" stroke-width="2.4" fill="none" />
<path d="M266,633 L266,626 Q272,622 280,622 Q289,616 293,622 L290,632 Q296,634 298,626 Q310,618 322,620 Q331,620 329.5,625 L326,633" stroke="#000" stroke-width="4.2" fill="none" />
<path d="M266,633 L266,626 Q272,622 280,622 Q289,616 293,622 L290,632 Q296,634 298,626 Q310,618 322,620 Q331,620 329.5,625 L326,633" stroke="#fff" stroke-width="0.9" fill="none" />
<circle cx="266.8" cy="641.5" r="3.6" fill="#fff" stroke="#000" stroke-width="1.8" />
<circle cx="330.5" cy="641.5" r="3.6" fill="#fff" stroke="#000" stroke-width="1.8" />
<rect x="221.7" y="645.9" width="55.7" height="9.8" fill="#fff" stroke="#000" stroke-width="2.2" />
<rect x="320.8" y="645.9" width="55.3" height="9.8" fill="#fff" stroke="#000" stroke-width="2.2" />
<path d="M234.6,655.7 L248,655.7 L220.4,727.2 L207.1,727.2 Z" stroke="#000" stroke-width="2.0" fill="#fff" />
<path d="M351,655.7 L363.5,655.7 L389.5,727.2 L376.9,727.2 Z" stroke="#000" stroke-width="2.0" fill="#fff" />
<line x1="298.3" y1="689.5" x2="298.3" y2="662.0" stroke="#000" stroke-width="2.2" />
<path d="M292.8,664.3 L298.3,654.9 L303.8,664.3 Z" stroke="#000" stroke-width="1" fill="#000" />
<rect x="680" y="464" width="515" height="306" fill="#fbfbfb"/>
<line x1="680.0" y1="497.5" x2="1192.0" y2="497.5" stroke="#ececec" stroke-width="1.6" />
<line x1="680.0" y1="622.0" x2="1192.0" y2="622.0" stroke="#eeeeee" stroke-width="1.4" />
<text x="688.0" y="675.0" font-size="24" font-weight="normal" font-style="normal" font-family='"Liberation Serif", sans-serif' fill="#e8e8e8" textLength="372.0" lengthAdjust="spacingAndGlyphs" >Therefore, the empirical formula of copper oxide</text>
<text x="690.0" y="480.0" font-size="18" font-weight="normal" font-style="normal" font-family='"Liberation Serif", sans-serif' fill="#f5f5f5" textLength="300.0" lengthAdjust="spacingAndGlyphs" >mi  ll  el  expe  ie  7  1  gan</text>
<text x="1100.0" y="600.0" font-size="22" font-weight="normal" font-style="normal" font-family='"Liberation Serif", sans-serif' fill="#f4f4f4" textLength="80.0" lengthAdjust="spacingAndGlyphs" >he pr</text>
<text x="1100.0" y="690.0" font-size="22" font-weight="normal" font-style="normal" font-family='"Liberation Serif", sans-serif' fill="#f4f4f4" textLength="80.0" lengthAdjust="spacingAndGlyphs" >mo</text>
<text x="740.0" y="540.0" font-size="19" font-weight="normal" font-style="normal" font-family='"Liberation Sans", sans-serif' fill="#000" textLength="42.2" lengthAdjust="spacingAndGlyphs" stroke="#000" stroke-width="0.4" stroke-linejoin="round" >thistle</text>
<text x="740.0" y="564.0" font-size="19" font-weight="normal" font-style="normal" font-family='"Liberation Sans", sans-serif' fill="#000" textLength="44.7" lengthAdjust="spacingAndGlyphs" stroke="#000" stroke-width="0.4" stroke-linejoin="round" >funnel</text>
<text x="947.5" y="486.0" font-size="19" font-weight="normal" font-style="normal" font-family='"Liberation Sans", sans-serif' fill="#000" textLength="92.1" lengthAdjust="spacingAndGlyphs" stroke="#000" stroke-width="0.4" stroke-linejoin="round" >copper oxide</text>
<text x="1084.9" y="497.9" font-size="19" font-weight="normal" font-style="normal" font-family='"Liberation Sans", sans-serif' fill="#000" textLength="84.3" lengthAdjust="spacingAndGlyphs" stroke="#000" stroke-width="0.4" stroke-linejoin="round" >flame of the</text>
<text x="1084.9" y="519.4" font-size="19" font-weight="normal" font-style="normal" font-family='"Liberation Sans", sans-serif' fill="#000" textLength="72.1" lengthAdjust="spacingAndGlyphs" stroke="#000" stroke-width="0.4" stroke-linejoin="round" >burning of</text>
<text x="1084.9" y="540.8" font-size="19" font-weight="normal" font-style="normal" font-family='"Liberation Sans", sans-serif' fill="#000" textLength="66.4" lengthAdjust="spacingAndGlyphs" stroke="#000" stroke-width="0.4" stroke-linejoin="round" >hydrogen</text>
<text x="1056.0" y="540.8" font-size="18" font-weight="normal" font-style="italic" font-family='"Liberation Sans", sans-serif' fill="#000" textLength="11.0" lengthAdjust="spacingAndGlyphs" stroke="#000" stroke-width="0.3" stroke-linejoin="round" >X</text>
<text x="1097.5" y="571.9" font-size="19" font-weight="normal" font-style="normal" font-family='"Liberation Sans", sans-serif' fill="#000" textLength="64.8" lengthAdjust="spacingAndGlyphs" stroke="#000" stroke-width="0.4" stroke-linejoin="round" >asbestos</text>
<text x="1097.5" y="593.6" font-size="19" font-weight="normal" font-style="normal" font-family='"Liberation Sans", sans-serif' fill="#000" textLength="55.7" lengthAdjust="spacingAndGlyphs" stroke="#000" stroke-width="0.4" stroke-linejoin="round" >crucible</text>
<text x="1016.4" y="609.2" font-size="19" font-weight="normal" font-style="normal" font-family='"Liberation Sans", sans-serif' fill="#000" textLength="53.8" lengthAdjust="spacingAndGlyphs" stroke="#000" stroke-width="0.4" stroke-linejoin="round" >heat up</text>
<text x="1054.2" y="635.1" font-size="19" font-weight="normal" font-style="normal" font-family='"Liberation Sans", sans-serif' fill="#000" textLength="81.6" lengthAdjust="spacingAndGlyphs" stroke="#000" stroke-width="0.4" stroke-linejoin="round" >combustion</text>
<text x="1054.2" y="656.8" font-size="19" font-weight="normal" font-style="normal" font-family='"Liberation Sans", sans-serif' fill="#000" textLength="31.1" lengthAdjust="spacingAndGlyphs" stroke="#000" stroke-width="0.4" stroke-linejoin="round" >tube</text>
<text x="941.0" y="707.0" font-size="19" font-weight="normal" font-style="normal" font-family='"Liberation Sans", sans-serif' fill="#000" textLength="134.7" lengthAdjust="spacingAndGlyphs" stroke="#000" stroke-width="0.4" stroke-linejoin="round" >anhydrous calcium</text>
<text x="941.0" y="730.2" font-size="19" font-weight="normal" font-style="normal" font-family='"Liberation Sans", sans-serif' fill="#000" textLength="57.0" lengthAdjust="spacingAndGlyphs" stroke="#000" stroke-width="0.4" stroke-linejoin="round" >chloride</text>
<text x="686.7" y="698.6" font-size="19" font-weight="normal" font-style="normal" font-family='"Liberation Sans", sans-serif' fill="#000" textLength="38.7" lengthAdjust="spacingAndGlyphs" stroke="#000" stroke-width="0.4" stroke-linejoin="round" >dilute</text>
<text x="686.7" y="721.0" font-size="19" font-weight="normal" font-style="normal" font-family='"Liberation Sans", sans-serif' fill="#000" textLength="87.1" lengthAdjust="spacingAndGlyphs" stroke="#000" stroke-width="0.4" stroke-linejoin="round" >hydrochloric</text>
<text x="686.7" y="742.8" font-size="19" font-weight="normal" font-style="normal" font-family='"Liberation Sans", sans-serif' fill="#000" textLength="28.2" lengthAdjust="spacingAndGlyphs" stroke="#000" stroke-width="0.4" stroke-linejoin="round" >acid</text>
<text x="768.0" y="766.0" font-size="19" font-weight="normal" font-style="normal" font-family='"Liberation Sans", sans-serif' fill="#000" textLength="79.8" lengthAdjust="spacingAndGlyphs" stroke="#000" stroke-width="0.4" stroke-linejoin="round" >zinc pieces</text>
<line x1="785.0" y1="532.1" x2="797.0" y2="532.1" stroke="#000" stroke-width="1.4" />
<line x1="1008.0" y1="495.5" x2="1042.8" y2="562.5" stroke="#000" stroke-width="1.3" />
<line x1="1074.0" y1="573.8" x2="1074.0" y2="619.1" stroke="#000" stroke-width="1.3" />
<line x1="1088.0" y1="567.2" x2="1094.7" y2="567.2" stroke="#000" stroke-width="1.3" />
<line x1="919.0" y1="701.1" x2="936.3" y2="701.1" stroke="#000" stroke-width="1.4" />
<line x1="728.8" y1="694.2" x2="772.9" y2="694.2" stroke="#000" stroke-width="1.4" />
<line x1="803.1" y1="733.0" x2="803.1" y2="753.0" stroke="#000" stroke-width="1.4" />
<path d="M791,591.3 L791,651.8 C778,660 772.9,672 772.9,690 C772.9,715 787,733.1 803.2,733.1 C819,733.1 833.4,715 833.4,690 C833.4,672 828,660 816.1,651.8 L816.1,591.3" stroke="#000" stroke-width="1.8" fill="#fff" />
<clipPath id="bulb"><path d="M772.9,689 L833.4,689 C833.4,715 819,733.1 803.2,733.1 C787,733.1 772.9,715 772.9,689 Z"/></clipPath>
<line x1="773.5" y1="689.0" x2="832.8" y2="689.0" stroke="#000" stroke-width="1.3" />
<path d="M776.0,693.0h3.4M782.6,693.0h3.4M789.2,693.0h3.4M795.8,693.0h3.4M802.4,693.0h3.4M809.0,693.0h3.4M815.6,693.0h3.4M822.2,693.0h3.4M828.8,693.0h3.4M779.0,697.2h3.4M785.6,697.2h3.4M792.2,697.2h3.4M798.8,697.2h3.4M805.4,697.2h3.4M812.0,697.2h3.4M818.6,697.2h3.4M825.2,697.2h3.4M831.8,697.2h3.4M776.0,701.4h3.4M782.6,701.4h3.4M789.2,701.4h3.4M795.8,701.4h3.4M802.4,701.4h3.4M809.0,701.4h3.4M815.6,701.4h3.4M822.2,701.4h3.4M828.8,701.4h3.4M779.0,705.6h3.4M785.6,705.6h3.4M792.2,705.6h3.4M798.8,705.6h3.4M805.4,705.6h3.4M812.0,705.6h3.4M818.6,705.6h3.4M825.2,705.6h3.4M831.8,705.6h3.4M776.0,709.8h3.4M782.6,709.8h3.4M789.2,709.8h3.4M795.8,709.8h3.4M802.4,709.8h3.4M809.0,709.8h3.4M815.6,709.8h3.4M822.2,709.8h3.4M828.8,709.8h3.4M779.0,714.0h3.4M785.6,714.0h3.4M792.2,714.0h3.4M798.8,714.0h3.4M805.4,714.0h3.4M812.0,714.0h3.4M818.6,714.0h3.4M825.2,714.0h3.4M831.8,714.0h3.4M776.0,718.2h3.4M782.6,718.2h3.4M789.2,718.2h3.4M795.8,718.2h3.4M802.4,718.2h3.4M809.0,718.2h3.4M815.6,718.2h3.4M822.2,718.2h3.4M828.8,718.2h3.4M779.0,722.4h3.4M785.6,722.4h3.4M792.2,722.4h3.4M798.8,722.4h3.4M805.4,722.4h3.4M812.0,722.4h3.4M818.6,722.4h3.4M825.2,722.4h3.4M831.8,722.4h3.4M776.0,726.6h3.4M782.6,726.6h3.4M789.2,726.6h3.4M795.8,726.6h3.4M802.4,726.6h3.4M809.0,726.6h3.4M815.6,726.6h3.4M822.2,726.6h3.4M828.8,726.6h3.4" stroke="#000" stroke-width="1.2" clip-path="url(#bulb)"/>
<circle cx="792.0" cy="728.0" r="1.8" fill="#fff" stroke="#000" stroke-width="1.0" />
<circle cx="797.0" cy="730.0" r="1.8" fill="#fff" stroke="#000" stroke-width="1.0" />
<circle cx="803.0" cy="731.0" r="1.8" fill="#fff" stroke="#000" stroke-width="1.0" />
<circle cx="809.0" cy="730.0" r="1.8" fill="#fff" stroke="#000" stroke-width="1.0" />
<circle cx="814.0" cy="728.0" r="1.8" fill="#fff" stroke="#000" stroke-width="1.0" />
<circle cx="788.0" cy="725.0" r="1.8" fill="#fff" stroke="#000" stroke-width="1.0" />
<circle cx="818.0" cy="725.0" r="1.8" fill="#fff" stroke="#000" stroke-width="1.0" />
<defs><pattern id="hat" width="3" height="3" patternUnits="userSpaceOnUse" patternTransform="rotate(45)"><rect width="3" height="3" fill="#bbb"/><rect width="1.8" height="3" fill="#111"/></pattern></defs>
<rect x="790.5" y="573.1" width="25.6" height="18.2" fill="url(#hat)" stroke="#000" stroke-width="1.4" />
<path d="M790.5,577 Q787,577 786.7,575" stroke="#000" stroke-width="1.4" fill="none" />
<path d="M816.1,577 Q819.5,577 820.4,575" stroke="#000" stroke-width="1.4" fill="none" />
<rect x="801.4" y="542.0" width="3.5" height="161.7" fill="#fff" stroke="#000" stroke-width="1.1" />
<path d="M801.4,542 C795,538 796,532 798.5,528 C800.5,524 797,520 797.6,517.5" stroke="#000" stroke-width="1.5" fill="none" />
<path d="M804.9,542 C811,538 810,532 807.5,528 C805.5,524 809,520 810.5,517.5" stroke="#000" stroke-width="1.5" fill="none" />
<path d="M806.5,593 L806.5,558.4 Q806.5,556.7 808.5,556.7 L866.3,556.7 L866.3,616.4" stroke="#000" stroke-width="1.3" fill="none" />
<path d="M810,593 L810,560.4 L862.8,560.4 L862.8,616.4" stroke="#000" stroke-width="1.3" fill="none" />
<path d="M857.4,591.3 L857.4,674 A35.6,43 0 0 0 928.6,674 L928.6,591.3" stroke="#000" stroke-width="1.8" fill="#fff" />
<clipPath id="ucl"><path d="M857.4,671.3 L871.2,671.3 L871.2,669 A21.8,27 0 0 0 914.8,669 L914.8,671.3 L928.6,671.3 L928.6,674 A35.6,43 0 0 1 857.4,674 Z"/></clipPath>
<g clip-path="url(#ucl)"><rect x="855" y="668" width="76" height="52" fill="#0a0a0a"/><circle cx="868.4" cy="670.0" r="1.65" fill="#fff"/><circle cx="868.8" cy="675.2" r="1.65" fill="#fff"/><circle cx="869.9" cy="680.3" r="1.65" fill="#fff"/><circle cx="871.7" cy="685.1" r="1.65" fill="#fff"/><circle cx="874.2" cy="689.4" r="1.65" fill="#fff"/><circle cx="877.2" cy="693.1" r="1.65" fill="#fff"/><circle cx="880.7" cy="696.2" r="1.65" fill="#fff"/><circle cx="884.6" cy="698.4" r="1.65" fill="#fff"/><circle cx="888.7" cy="699.7" r="1.65" fill="#fff"/><circle cx="893.0" cy="700.2" r="1.65" fill="#fff"/><circle cx="897.3" cy="699.7" r="1.65" fill="#fff"/><circle cx="901.4" cy="698.4" r="1.65" fill="#fff"/><circle cx="905.3" cy="696.2" r="1.65" fill="#fff"/><circle cx="908.8" cy="693.1" r="1.65" fill="#fff"/><circle cx="911.8" cy="689.4" r="1.65" fill="#fff"/><circle cx="914.3" cy="685.1" r="1.65" fill="#fff"/><circle cx="916.1" cy="680.3" r="1.65" fill="#fff"/><circle cx="917.2" cy="675.2" r="1.65" fill="#fff"/><circle cx="917.6" cy="670.0" r="1.65" fill="#fff"/><circle cx="868.4" cy="666.4" r="1.65" fill="#fff"/><circle cx="917.6" cy="666.4" r="1.65" fill="#fff"/><circle cx="864.3" cy="671.5" r="1.65" fill="#fff"/><circle cx="864.6" cy="676.7" r="1.65" fill="#fff"/><circle cx="865.6" cy="681.8" r="1.65" fill="#fff"/><circle cx="867.1" cy="686.7" r="1.65" fill="#fff"/><circle cx="869.3" cy="691.2" r="1.65" fill="#fff"/><circle cx="872.0" cy="695.3" r="1.65" fill="#fff"/><circle cx="875.1" cy="698.9" r="1.65" fill="#fff"/><circle cx="878.6" cy="701.8" r="1.65" fill="#fff"/><circle cx="882.5" cy="704.1" r="1.65" fill="#fff"/><circle cx="886.6" cy="705.6" r="1.65" fill="#fff"/><circle cx="890.9" cy="706.4" r="1.65" fill="#fff"/><circle cx="895.1" cy="706.4" r="1.65" fill="#fff"/><circle cx="899.4" cy="705.6" r="1.65" fill="#fff"/><circle cx="903.5" cy="704.1" r="1.65" fill="#fff"/><circle cx="907.4" cy="701.8" r="1.65" fill="#fff"/><circle cx="910.9" cy="698.9" r="1.65" fill="#fff"/><circle cx="914.0" cy="695.3" r="1.65" fill="#fff"/><circle cx="916.7" cy="691.2" r="1.65" fill="#fff"/><circle cx="918.9" cy="686.7" r="1.65" fill="#fff"/><circle cx="920.4" cy="681.8" r="1.65" fill="#fff"/><circle cx="921.4" cy="676.7" r="1.65" fill="#fff"/><circle cx="921.7" cy="671.5" r="1.65" fill="#fff"/><circle cx="864.3" cy="667.9" r="1.65" fill="#fff"/><circle cx="921.7" cy="667.9" r="1.65" fill="#fff"/><circle cx="860.2" cy="673.0" r="1.65" fill="#fff"/><circle cx="860.4" cy="678.2" r="1.65" fill="#fff"/><circle cx="861.3" cy="683.3" r="1.65" fill="#fff"/><circle cx="862.7" cy="688.2" r="1.65" fill="#fff"/><circle cx="864.6" cy="692.9" r="1.65" fill="#fff"/><circle cx="866.9" cy="697.2" r="1.65" fill="#fff"/><circle cx="869.8" cy="701.1" r="1.65" fill="#fff"/><circle cx="873.0" cy="704.6" r="1.65" fill="#fff"/><circle cx="876.6" cy="707.5" r="1.65" fill="#fff"/><circle cx="880.4" cy="709.8" r="1.65" fill="#fff"/><circle cx="884.5" cy="711.4" r="1.65" fill="#fff"/><circle cx="888.7" cy="712.5" r="1.65" fill="#fff"/><circle cx="893.0" cy="712.8" r="1.65" fill="#fff"/><circle cx="897.3" cy="712.5" r="1.65" fill="#fff"/><circle cx="901.5" cy="711.4" r="1.65" fill="#fff"/><circle cx="905.6" cy="709.8" r="1.65" fill="#fff"/><circle cx="909.4" cy="707.5" r="1.65" fill="#fff"/><circle cx="913.0" cy="704.6" r="1.65" fill="#fff"/><circle cx="916.2" cy="701.1" r="1.65" fill="#fff"/><circle cx="919.1" cy="697.2" r="1.65" fill="#fff"/><circle cx="921.4" cy="692.9" r="1.65" fill="#fff"/><circle cx="923.3" cy="688.2" r="1.65" fill="#fff"/><circle cx="924.7" cy="683.3" r="1.65" fill="#fff"/><circle cx="925.6" cy="678.2" r="1.65" fill="#fff"/><circle cx="925.8" cy="673.0" r="1.65" fill="#fff"/><circle cx="860.2" cy="669.4" r="1.65" fill="#fff"/><circle cx="925.8" cy="669.4" r="1.65" fill="#fff"/></g>
<path d="M857.4,591.3 L857.4,674 A35.6,43 0 0 0 928.6,674 L928.6,591.3" stroke="#000" stroke-width="1.8" fill="none" />
<path d="M871.2,591.3 L871.2,669 A21.8,27 0 0 0 914.8,669 L914.8,591.3" stroke="#000" stroke-width="1.8" fill="#fff" />
<path d="M857.6,588.7 L872.3,588.7 L870.5,601.7 L859.5,601.7 Z" stroke="#000" stroke-width="1" fill="#111" />
<path d="M913.8,588.7 L929.4,588.7 L927.6,601.7 L915.6,601.7 Z" stroke="#000" stroke-width="1" fill="#111" />
<rect x="853.3" y="622.4" width="4.8" height="19.9" fill="#fff" stroke="#000" stroke-width="1.2" />
<rect x="870.0" y="622.4" width="5.2" height="19.9" fill="#fff" stroke="#000" stroke-width="1.2" />
<path d="M919.8,616.4 L919.8,558.4 Q919.8,556.7 921.8,556.7 L1020.2,556.7" stroke="#000" stroke-width="1.3" fill="none" />
<path d="M923.3,616.4 L923.3,561.3 L1020.2,561.3" stroke="#000" stroke-width="1.3" fill="none" />
<rect x="1000.8" y="539.8" width="16.6" height="39.2" fill="#fff" stroke="#000" stroke-width="1.3" />
<path d="M1003.2,545.5 L1076,545.5 Q1090,545.5 1090,559 Q1090,572.8 1076,572.8 L1003.2,572.8" stroke="#000" stroke-width="1.6" fill="#fff" />
<rect x="990.6" y="546.4" width="12.6" height="26.4" fill="url(#hat)" stroke="#000" stroke-width="1.4" />
<rect x="990.6" y="555.5" width="12.6" height="4.0" fill="#111" stroke="#111" stroke-width="0.5" />
<line x1="1003.2" y1="556.7" x2="1020.2" y2="556.7" stroke="#000" stroke-width="1.3" />
<line x1="1003.2" y1="561.3" x2="1020.2" y2="561.3" stroke="#000" stroke-width="1.3" />
<line x1="1034.3" y1="567.2" x2="1085.0" y2="567.2" stroke="#000" stroke-width="1.4" />
<path d="M1034.3,570 L1036,563 L1044,561.5 L1052,562.5 L1055.1,566 L1054,570 Z" stroke="#000" stroke-width="0.8" fill="#222" />
<path d="M1072.5,545.5 Q1073,538 1076,533 Q1078.5,528 1079.6,525 Q1081,533 1078.5,540 Q1077,544 1076.5,545.5" stroke="#000" stroke-width="1.2" fill="#fff" />
<line x1="1041.0" y1="590.8" x2="1041.0" y2="583.0" stroke="#000" stroke-width="1.2" />
<path d="M1039.2,584.5 L1041,579.4 L1042.8,584.5 Z" stroke="#000" stroke-width="0.6" fill="#000" />
<line x1="1049.4" y1="590.8" x2="1049.4" y2="583.0" stroke="#000" stroke-width="1.2" />
<path d="M1047.6000000000001,584.5 L1049.4,579.4 L1051.2,584.5 Z" stroke="#000" stroke-width="0.6" fill="#000" />
<text x="210.2" y="833.6" font-size="23" font-weight="normal" font-style="normal" font-family='"Liberation Serif", sans-serif' fill="#000" textLength="56.6" lengthAdjust="spacingAndGlyphs" >Alkali</text>
<text x="211.4" y="857.2" font-size="23" font-weight="normal" font-style="normal" font-family='"Liberation Serif", sans-serif' fill="#000" textLength="54.2" lengthAdjust="spacingAndGlyphs" >metal</text>
<text x="355.2" y="933.1" font-size="23" font-weight="normal" font-style="normal" font-family='"Liberation Serif", sans-serif' fill="#000" textLength="55.5" lengthAdjust="spacingAndGlyphs" >Water</text>
<text x="355.2" y="957.4" font-size="23" font-weight="normal" font-style="normal" font-family='"Liberation Serif", sans-serif' fill="#000" textLength="63.7" lengthAdjust="spacingAndGlyphs" >trough</text>
<text x="355.2" y="991.1" font-size="23" font-weight="normal" font-style="normal" font-family='"Liberation Serif", sans-serif' fill="#000" textLength="55.5" lengthAdjust="spacingAndGlyphs" >Water</text>
<line x1="235.7" y1="863.8" x2="235.7" y2="936.4" stroke="#000" stroke-width="1.3" />
<circle cx="235.4" cy="941.6" r="5.0" fill="#fff" stroke="#000" stroke-width="1.4" />
<path d="M139,922.7 Q142.3,923 142.3,928 L142.3,992 Q142.3,998.7 149,998.7 L315,998.7 Q321.5,998.7 321.5,992 L321.5,928 Q321.5,924 325.8,923.7" stroke="#000" stroke-width="1.8" fill="none" />
<path d="M142.3,943 Q143,946.8 148,946.8 L316,946.8 Q321,946.8 321.5,943" stroke="#000" stroke-width="1.6" fill="none" />
<path d="M144,957.4h4.5M163.0,957.4h11.3M187.8,957.4h11.3M212.6,957.4h11.3M237.4,957.4h11.3M262.2,957.4h11.3M287.0,957.4h11.3M311.8,957.4h7.2M152.4,967.5h11.3M177.2,967.5h11.3M202.0,967.5h11.3M226.8,967.5h11.3M251.6,967.5h11.3M276.4,967.5h11.3M301.2,967.5h11.3M144,978.6h4.5M163.0,978.6h11.3M187.8,978.6h11.3M212.6,978.6h11.3M237.4,978.6h11.3M262.2,978.6h11.3M287.0,978.6h11.3M311.8,978.6h7.2M152.4,991.1h11.3M177.2,991.1h11.3M202.0,991.1h11.3M226.8,991.1h11.3M251.6,991.1h11.3M276.4,991.1h11.3M301.2,991.1h11.3" stroke="#000" stroke-width="1.3"/>
<line x1="323.4" y1="930.8" x2="350.5" y2="930.8" stroke="#000" stroke-width="1.4" />
<line x1="309.2" y1="984.5" x2="350.5" y2="984.5" stroke="#000" stroke-width="1.4" />
<rect x="680" y="795" width="261" height="242" fill="#f9f9f9"/>
<rect x="682" y="800" width="60" height="40" fill="#f3f3f3"/>
<rect x="850" y="800" width="85" height="50" fill="#f3f3f3"/>
<rect x="690" y="880" width="60" height="50" fill="#f5f5f5"/>
<rect x="880" y="900" width="55" height="60" fill="#f5f5f5"/>
<rect x="700" y="1010" width="50" height="25" fill="#f3f3f3"/>
<rect x="841.6" y="864.0" width="88.7" height="22.3" fill="#e4e4e4" stroke="none" stroke-width="0" />
<rect x="696.2" y="947.4" width="48.2" height="55.6" fill="#e4e4e4" stroke="none" stroke-width="0" />
<rect x="841.1" y="980.7" width="99.2" height="42.5" fill="#e4e4e4" stroke="none" stroke-width="0" />
<text x="845.8" y="881.0" font-size="13.3" font-weight="normal" font-style="normal" font-family='"Liberation Sans", sans-serif' fill="#000" textLength="80.2" lengthAdjust="spacingAndGlyphs" stroke="#000" stroke-width="0.15" stroke-linejoin="round" >White fumes</text>
<text x="702.3" y="963.8" font-size="13.3" font-weight="normal" font-style="normal" font-family='"Liberation Sans", sans-serif' fill="#000" textLength="36.1" lengthAdjust="spacingAndGlyphs" stroke="#000" stroke-width="0.15" stroke-linejoin="round" >Alkali</text>
<text x="702.3" y="980.7" font-size="13.3" font-weight="normal" font-style="normal" font-family='"Liberation Sans", sans-serif' fill="#000" textLength="35.5" lengthAdjust="spacingAndGlyphs" stroke="#000" stroke-width="0.15" stroke-linejoin="round" >metal</text>
<text x="702.3" y="997.7" font-size="13.3" font-weight="normal" font-style="normal" font-family='"Liberation Sans", sans-serif' fill="#000" textLength="36.1" lengthAdjust="spacingAndGlyphs" stroke="#000" stroke-width="0.15" stroke-linejoin="round" >burns</text>
<text x="844.8" y="997.7" font-size="13.3" font-weight="normal" font-style="normal" font-family='"Liberation Sans", sans-serif' fill="#000" textLength="81.7" lengthAdjust="spacingAndGlyphs" stroke="#000" stroke-width="0.15" stroke-linejoin="round" >Chlorine gas</text>
<text x="844.8" y="1013.6" font-size="13.3" font-weight="normal" font-style="normal" font-family='"Liberation Sans", sans-serif' fill="#000" textLength="90.6" lengthAdjust="spacingAndGlyphs" stroke="#000" stroke-width="0.15" stroke-linejoin="round" >or oxygen gas</text>
<path d="M755,836.4 L822.9,836.4 L822.9,842.8 L755,842.8 Z" stroke="#000" stroke-width="1.6" fill="#fff" />
<path d="M757.5,842.8 Q763.3,844 763.3,850 L763.3,1018 Q763.3,1023 757.7,1024.3" stroke="#000" stroke-width="2.2" fill="none" />
<path d="M821,842.8 Q815.7,844 815.7,850 L815.7,1018 Q815.7,1023 820.3,1024.3" stroke="#000" stroke-width="2.2" fill="none" />
<path d="M757.7,1024.3 L820.3,1024.3 L820.3,1030.6 L757.7,1030.6 Z" stroke="#000" stroke-width="1.6" fill="#fff" />
<path d="M771.5,863 Q775,865 778,861 Q781,863 784.3,859" stroke="#a0a0a0" stroke-width="1.3" fill="none" />
<path d="M771.5,888 Q775,891 778,887 Q781,889 784.3,886" stroke="#a0a0a0" stroke-width="1.3" fill="none" />
<path d="M769.4,915 Q773,913 775,910 Q778,911 781,907.5" stroke="#a0a0a0" stroke-width="1.3" fill="none" />
<path d="M776.8,931 Q779,936 782,934 Q784,937 786.4,935" stroke="#a0a0a0" stroke-width="1.3" fill="none" />
<path d="M799.1,879 Q802,880 804,877 Q806,878 808.7,876" stroke="#a0a0a0" stroke-width="1.3" fill="none" />
<path d="M799.1,905 Q801,909 804,908 Q807,911 809.7,909" stroke="#a0a0a0" stroke-width="1.3" fill="none" />
<path d="M790.4,801 L790.4,916.5 L795.6,928.3 L795.6,953 L789,963" stroke="#000" stroke-width="1.9" fill="none" />
<path d="M794.2,801 L794.2,915.5 L799.6,927.5 L799.6,955 L792.5,966" stroke="#000" stroke-width="1.9" fill="none" />
<line x1="790.4" y1="801.0" x2="794.2" y2="801.0" stroke="#000" stroke-width="1.5" />
<path d="M769.4,965.5 L790.6,965.5 Q790,974.4 780,974.4 Q770,974.4 769.4,965.5 Z" stroke="#000" stroke-width="1.2" fill="#111" />
<path d="M773,965 L773.5,956 L775.5,962 L775,950 L779,961 L781.5,957 L783.5,961 L784,951 L787.5,964 Z" stroke="#000" stroke-width="0.8" fill="#111" />
<path d="M774,965 Q779,960 786,963" stroke="#fff" stroke-width="1.0" fill="none" />
<line x1="840.0" y1="875.7" x2="805.5" y2="875.7" stroke="#000" stroke-width="1.2" />
<line x1="840.0" y1="875.7" x2="805.5" y2="905.4" stroke="#000" stroke-width="1.2" />
<line x1="746.0" y1="959.5" x2="773.6" y2="959.5" stroke="#000" stroke-width="1.2" />
<line x1="789.6" y1="993.5" x2="840.5" y2="993.5" stroke="#000" stroke-width="1.2" />
<text x="166.0" y="1084.1" font-size="18.5" font-weight="normal" font-style="normal" font-family='"Liberation Sans", sans-serif' fill="#000" textLength="141.8" lengthAdjust="spacingAndGlyphs" stroke="#000" stroke-width="0.3" stroke-linejoin="round" >thistle funnel</text>
<text x="382.2" y="1081.0" font-size="18.5" font-weight="normal" font-style="normal" font-family='"Liberation Sans", sans-serif' fill="#000" textLength="191.5" lengthAdjust="spacingAndGlyphs" stroke="#000" stroke-width="0.3" stroke-linejoin="round" >combustion  tube</text>
<text x="289.6" y="1122.1" font-size="18.5" font-weight="normal" font-style="normal" font-family='"Liberation Sans", sans-serif' fill="#000" textLength="100.4" lengthAdjust="spacingAndGlyphs" stroke="#000" stroke-width="0.3" stroke-linejoin="round" >iron wool</text>
<text x="267.1" y="1136.1" font-size="12.5" font-weight="normal" font-style="normal" font-family='"Liberation Sans", sans-serif' fill="#000" textLength="14.0" lengthAdjust="spacingAndGlyphs" stroke="#000" stroke-width="0.2" stroke-linejoin="round" >Cl</text>
<text x="281.5" y="1139.5" font-size="9" font-weight="normal" font-style="normal" font-family='"Liberation Sans", sans-serif' fill="#000" textLength="5.5" lengthAdjust="spacingAndGlyphs" stroke="#000" stroke-width="0.1" stroke-linejoin="round" >2</text>
<text x="420.2" y="1144.6" font-size="18.5" font-weight="normal" font-style="normal" font-family='"Liberation Sans", sans-serif' fill="#000" textLength="109.0" lengthAdjust="spacingAndGlyphs" stroke="#000" stroke-width="0.3" stroke-linejoin="round" >excess Cl</text>
<text x="530.3" y="1148.8" font-size="12.5" font-weight="normal" font-style="normal" font-family='"Liberation Sans", sans-serif' fill="#000" textLength="7.5" lengthAdjust="spacingAndGlyphs" stroke="#000" stroke-width="0.2" stroke-linejoin="round" >2</text>
<text x="476.4" y="1167.5" font-size="18.5" font-weight="normal" font-style="normal" font-family='"Liberation Sans", sans-serif' fill="#000" textLength="49.7" lengthAdjust="spacingAndGlyphs" stroke="#000" stroke-width="0.3" stroke-linejoin="round" >filter</text>
<text x="476.4" y="1187.0" font-size="18.5" font-weight="normal" font-style="normal" font-family='"Liberation Sans", sans-serif' fill="#000" textLength="69.2" lengthAdjust="spacingAndGlyphs" stroke="#000" stroke-width="0.3" stroke-linejoin="round" >funnel</text>
<text x="487.2" y="1210.0" font-size="18.5" font-weight="normal" font-style="normal" font-family='"Liberation Sans", sans-serif' fill="#000" textLength="77.8" lengthAdjust="spacingAndGlyphs" stroke="#000" stroke-width="0.3" stroke-linejoin="round" >beaker</text>
<text x="479.9" y="1234.5" font-size="18.5" font-weight="normal" font-style="normal" font-family='"Liberation Sans", sans-serif' fill="#000" textLength="80.8" lengthAdjust="spacingAndGlyphs" stroke="#000" stroke-width="0.3" stroke-linejoin="round" >sodium</text>
<text x="479.9" y="1257.5" font-size="18.5" font-weight="normal" font-style="normal" font-family='"Liberation Sans", sans-serif' fill="#000" textLength="108.1" lengthAdjust="spacingAndGlyphs" stroke="#000" stroke-width="0.3" stroke-linejoin="round" >hydroxide</text>
<text x="479.9" y="1279.0" font-size="18.5" font-weight="normal" font-style="normal" font-family='"Liberation Sans", sans-serif' fill="#000" textLength="85.1" lengthAdjust="spacingAndGlyphs" stroke="#000" stroke-width="0.3" stroke-linejoin="round" >solution</text>
<text x="86.6" y="1194.9" font-size="18.5" font-weight="normal" font-style="normal" font-family='"Liberation Sans", sans-serif' fill="#000" textLength="145.9" lengthAdjust="spacingAndGlyphs" stroke="#000" stroke-width="0.3" stroke-linejoin="round" >concentrated</text>
<text x="86.6" y="1216.2" font-size="18.5" font-weight="normal" font-style="normal" font-family='"Liberation Sans", sans-serif' fill="#000" textLength="135.9" lengthAdjust="spacingAndGlyphs" stroke="#000" stroke-width="0.3" stroke-linejoin="round" >hydrochloric</text>
<text x="85.3" y="1237.9" font-size="18.5" font-weight="normal" font-style="normal" font-family='"Liberation Sans", sans-serif' fill="#000" textLength="45.3" lengthAdjust="spacingAndGlyphs" stroke="#000" stroke-width="0.3" stroke-linejoin="round" >acid</text>
<text x="307.9" y="1194.5" font-size="18.5" font-weight="normal" font-style="normal" font-family='"Liberation Sans", sans-serif' fill="#000" textLength="81.8" lengthAdjust="spacingAndGlyphs" stroke="#000" stroke-width="0.3" stroke-linejoin="round" >heat up</text>
<text x="221.1" y="1261.5" font-size="18.5" font-weight="normal" font-style="normal" font-family='"Liberation Sans", sans-serif' fill="#000" textLength="113.5" lengthAdjust="spacingAndGlyphs" stroke="#000" stroke-width="0.3" stroke-linejoin="round" >potassium</text>
<text x="220.5" y="1282.3" font-size="18.5" font-weight="normal" font-style="normal" font-family='"Liberation Sans", sans-serif' fill="#000" textLength="174.6" lengthAdjust="spacingAndGlyphs" stroke="#000" stroke-width="0.3" stroke-linejoin="round" >manganate(VII)</text>
<text x="219.6" y="1304.9" font-size="18.5" font-weight="normal" font-style="normal" font-family='"Liberation Sans", sans-serif' fill="#000" textLength="85.9" lengthAdjust="spacingAndGlyphs" stroke="#000" stroke-width="0.3" stroke-linejoin="round" >crystals</text>
<path d="M250.8,1170.3 L250.8,1187 L222.5,1222 Q219.5,1230.4 226,1230.4 L296,1230.4 Q302.5,1230.4 299.8,1222 L274.3,1187 L274.3,1170.3" stroke="#000" stroke-width="1.7" fill="#fff" />
<rect x="233.8" y="1223.5" width="50.9" height="7.3" fill="#111" stroke="#111" stroke-width="0.8" rx="2.5"/>
<line x1="258.3" y1="1231.0" x2="258.3" y2="1242.9" stroke="#000" stroke-width="1.5" />
<path d="M256.1,1194.5 v3 M256.1,1200 v3 M256.1,1205.5 v2" stroke="#000" stroke-width="1.6"/>
<line x1="233.5" y1="1189.0" x2="251.0" y2="1188.0" stroke="#000" stroke-width="1.5" />
<defs><pattern id="hat2" width="3" height="3" patternUnits="userSpaceOnUse" patternTransform="rotate(45)"><rect width="3" height="3" fill="#ddd"/><rect width="1.2" height="3" fill="#666"/></pattern></defs>
<rect x="251.7" y="1159.2" width="23.1" height="11.1" fill="url(#hat2)" stroke="#000" stroke-width="1.2" />
<line x1="259.0" y1="1090.0" x2="259.0" y2="1108.6" stroke="#000" stroke-width="1.5" />
<circle cx="259.0" cy="1117.4" r="8.6" fill="#eeeed2" stroke="#000" stroke-width="1.6" />
<path d="M254,1114 h2 M258,1118 h2 M262,1114 h1.5 M255,1121 h2 M261,1122 h2" stroke="#888" stroke-width="1"/>
<path d="M255,1126 L255,1188 M260.5,1126 L260.5,1188" stroke="#000" stroke-width="1.4" fill="none" />
<rect x="251.7" y="1144.5" width="11.0" height="3.7" fill="#111" stroke="#111" stroke-width="0.8" />
<path d="M265,1188 L265,1155 Q265,1150.2 270,1150.2 L315.6,1150.2" stroke="#000" stroke-width="1.3" fill="none" />
<path d="M268.2,1188 L268.2,1157 Q268.2,1153.7 271.5,1153.7 L315.6,1153.7" stroke="#000" stroke-width="1.3" fill="none" />
<line x1="276.0" y1="1146.0" x2="285.0" y2="1146.0" stroke="#000" stroke-width="1.2" />
<path d="M283.5,1144 L287.5,1146 L283.5,1148 Z" stroke="#000" stroke-width="0.6" fill="#000" />
<line x1="418.0" y1="1150.4" x2="427.0" y2="1150.4" stroke="#000" stroke-width="1.2" />
<path d="M425.5,1148.4 L429.5,1150.4 L425.5,1152.4 Z" stroke="#000" stroke-width="0.6" fill="#000" />
<line x1="291.4" y1="1143.8" x2="416.8" y2="1143.8" stroke="#000" stroke-width="1.6" />
<line x1="291.4" y1="1163.6" x2="416.8" y2="1163.6" stroke="#000" stroke-width="1.6" />
<rect x="291.4" y="1143.8" width="16.5" height="19.8" fill="#cfcfcf" stroke="#000" stroke-width="1.4" />
<rect x="402.5" y="1143.8" width="14.3" height="19.8" fill="#cfcfcf" stroke="#000" stroke-width="1.4" />
<line x1="291.4" y1="1150.2" x2="315.6" y2="1150.2" stroke="#000" stroke-width="1.3" />
<line x1="291.4" y1="1153.7" x2="315.6" y2="1153.7" stroke="#000" stroke-width="1.3" />
<line x1="395.0" y1="1150.2" x2="433.8" y2="1150.2" stroke="#000" stroke-width="1.3" />
<line x1="395.0" y1="1153.7" x2="430.0" y2="1153.7" stroke="#000" stroke-width="1.3" />
<rect x="312.3" y="1138.3" width="17.6" height="4.4" fill="#111" stroke="#111" stroke-width="0.8" />
<rect x="312.3" y="1163.6" width="17.6" height="4.4" fill="#111" stroke="#111" stroke-width="0.8" />
<path d="M300,1141 Q298,1137 301,1134" stroke="#000" stroke-width="1.2" fill="none" />
<path d="M300,1166 Q298,1170 301,1173" stroke="#000" stroke-width="1.2" fill="none" />
<path d="M407,1141 Q409,1137 406,1134" stroke="#000" stroke-width="1.2" fill="none" />
<path d="M407,1166 Q409,1170 406,1173" stroke="#000" stroke-width="1.2" fill="none" />
<ellipse cx="355.2" cy="1153.7" rx="18.2" ry="8.6" fill="#e2e2d6" stroke="#000" stroke-width="1.4"/>
<path d="M343,1151 q3,-3 6,0 M352,1149 q3,-3 6,0 M347,1157 q3,3 6,0 M358,1156 q3,3 6,0 M362,1150 q2,-2 4,0" stroke="#777" stroke-width="1" fill="none"/>
<line x1="353.0" y1="1126.2" x2="353.0" y2="1145.0" stroke="#000" stroke-width="1.3" />
<line x1="444.3" y1="1087.7" x2="383.8" y2="1143.8" stroke="#000" stroke-width="1.4" />
<line x1="345.3" y1="1176.9" x2="345.3" y2="1171.0" stroke="#000" stroke-width="1.3" />
<path d="M343.5,1172 L345.3,1167 L347.1,1172 Z" stroke="#000" stroke-width="0.6" fill="#000" />
<line x1="354.1" y1="1176.9" x2="354.1" y2="1171.0" stroke="#000" stroke-width="1.3" />
<path d="M352.3,1172 L354.1,1167 L355.90000000000003,1172 Z" stroke="#000" stroke-width="0.6" fill="#000" />
<line x1="362.9" y1="1176.9" x2="362.9" y2="1171.0" stroke="#000" stroke-width="1.3" />
<path d="M361.09999999999997,1172 L362.9,1167 L364.7,1172 Z" stroke="#000" stroke-width="0.6" fill="#000" />
<path d="M433.8,1150.2 L433.8,1201" stroke="#000" stroke-width="1.3" fill="none" />
<path d="M430,1153.7 L430,1201" stroke="#000" stroke-width="1.3" fill="none" />
<rect x="426.7" y="1175.0" width="12.1" height="8.5" fill="#222" stroke="#000" stroke-width="0.8" />
<path d="M424.5,1208.8 L432,1198.9 L440,1208.8" stroke="#000" stroke-width="1.4" fill="#fff" />
<path d="M438.8,1202 L438.8,1161.4 L474,1161.4" stroke="#000" stroke-width="1.3" fill="none" />
<defs><pattern id="liq" width="6" height="4" patternUnits="userSpaceOnUse"><rect width="6" height="4" fill="#e6e6d0"/><path d="M0.5,1.5 q1,-1 2,0 M3.5,3.5 q1,-1 2,0" stroke="#333" stroke-width="0.9" fill="none"/></pattern></defs>
<rect x="400.0" y="1204.4" width="67.7" height="27.8" fill="url(#liq)" stroke="none" stroke-width="0" />
<path d="M396.5,1196.7 Q399.2,1197 399.2,1200 L399.2,1229 Q399.2,1233 403,1233 L464.5,1233 Q468.5,1233 468.5,1229 L468.5,1200 Q468.5,1197 471,1196.7" stroke="#000" stroke-width="1.7" fill="none" />
<line x1="468.5" y1="1202.0" x2="485.0" y2="1202.0" stroke="#000" stroke-width="1.4" />
<line x1="458.6" y1="1227.5" x2="478.6" y2="1227.5" stroke="#000" stroke-width="1.4" />
<path d="M424.5,1208.8 L432,1198.9 L440,1208.8 Z" stroke="#000" stroke-width="1.2" fill="#fff" />
<rect x="680" y="1069" width="308" height="280" fill="#fcfcfc"/>
<text x="684.0" y="1092.0" font-size="16" font-weight="normal" font-style="normal" font-family='"Liberation Serif", sans-serif' fill="#efefef" textLength="301.0" lengthAdjust="spacingAndGlyphs" >ar ooxrrectwsd oftrrst tndrsdttcd ra tsoef daorseer</text>
<text x="684.0" y="1129.0" font-size="16" font-weight="normal" font-style="normal" font-family='"Liberation Serif", sans-serif' fill="#f1f1f1" textLength="301.0" lengthAdjust="spacingAndGlyphs" >ar ooxrrectwsd oftrrst tndrsdttcd ra tsoef daorseer</text>
<text x="684.0" y="1171.0" font-size="16" font-weight="normal" font-style="normal" font-family='"Liberation Serif", sans-serif' fill="#f1f1f1" textLength="301.0" lengthAdjust="spacingAndGlyphs" >ar ooxrrectwsd oftrrst tndrsdttcd ra tsoef daorseer</text>
<text x="684.0" y="1194.0" font-size="16" font-weight="normal" font-style="normal" font-family='"Liberation Serif", sans-serif' fill="#f2f2f2" textLength="301.0" lengthAdjust="spacingAndGlyphs" >ar ooxrrectwsd oftrrst tndrsdttcd ra tsoef daorseer</text>
<text x="684.0" y="1281.0" font-size="16" font-weight="normal" font-style="normal" font-family='"Liberation Serif", sans-serif' fill="#f1f1f1" textLength="301.0" lengthAdjust="spacingAndGlyphs" >ar ooxrrectwsd oftrrst tndrsdttcd ra tsoef daorseer</text>
<text x="684.0" y="1310.0" font-size="16" font-weight="normal" font-style="normal" font-family='"Liberation Serif", sans-serif' fill="#f3f3f3" textLength="301.0" lengthAdjust="spacingAndGlyphs" >ar ooxrrectwsd oftrrst tndrsdttcd ra tsoef daorseer</text>
<text x="846.5" y="1104.0" font-size="18.5" font-weight="normal" font-style="normal" font-family='"Liberation Sans", sans-serif' fill="#000" textLength="71.5" lengthAdjust="spacingAndGlyphs" stroke="#000" stroke-width="0.3" stroke-linejoin="round" >chlorine</text>
<text x="846.5" y="1122.0" font-size="18.5" font-weight="normal" font-style="normal" font-family='"Liberation Sans", sans-serif' fill="#000" textLength="32.4" lengthAdjust="spacingAndGlyphs" stroke="#000" stroke-width="0.3" stroke-linejoin="round" >gas</text>
<text x="693.0" y="1165.3" font-size="18.5" font-weight="normal" font-style="normal" font-family='"Liberation Sans", sans-serif' fill="#000" textLength="117.8" lengthAdjust="spacingAndGlyphs" stroke="#000" stroke-width="0.3" stroke-linejoin="round" >concentrated</text>
<text x="693.0" y="1185.0" font-size="18.5" font-weight="normal" font-style="normal" font-family='"Liberation Sans", sans-serif' fill="#000" textLength="110.2" lengthAdjust="spacingAndGlyphs" stroke="#000" stroke-width="0.3" stroke-linejoin="round" >hydrochloric</text>
<text x="693.0" y="1205.3" font-size="18.5" font-weight="normal" font-style="normal" font-family='"Liberation Sans", sans-serif' fill="#000" textLength="37.0" lengthAdjust="spacingAndGlyphs" stroke="#000" stroke-width="0.3" stroke-linejoin="round" >acid</text>
<text x="930.6" y="1230.0" font-size="18.5" font-weight="normal" font-style="normal" font-family='"Liberation Sans", sans-serif' fill="#000" textLength="50.4" lengthAdjust="spacingAndGlyphs" stroke="#000" stroke-width="0.3" stroke-linejoin="round" >water</text>
<text x="773.0" y="1298.6" font-size="18.5" font-weight="normal" font-style="normal" font-family='"Liberation Sans", sans-serif' fill="#000" textLength="93.3" lengthAdjust="spacingAndGlyphs" stroke="#000" stroke-width="0.3" stroke-linejoin="round" >potassium</text>
<text x="773.0" y="1319.6" font-size="18.5" font-weight="normal" font-style="normal" font-family='"Liberation Sans", sans-serif' fill="#000" textLength="140.8" lengthAdjust="spacingAndGlyphs" stroke="#000" stroke-width="0.3" stroke-linejoin="round" >manganate(VII)</text>
<text x="773.0" y="1338.6" font-size="18.5" font-weight="normal" font-style="normal" font-family='"Liberation Sans", sans-serif' fill="#000" textLength="70.6" lengthAdjust="spacingAndGlyphs" stroke="#000" stroke-width="0.3" stroke-linejoin="round" >crystals</text>
<line x1="864.0" y1="1135.6" x2="886.0" y2="1135.6" stroke="#000" stroke-width="1.3" />
<path d="M884,1133 L889.5,1135.6 L884,1138.2 Z" stroke="#000" stroke-width="0.6" fill="#000" />
<clipPath id="tt"><path d="M771.3,1242.4 L830.8,1162.5 L852,1173.1 L796.8,1253.1 Q784,1264 775,1254 Q768,1248 771.3,1242.4 Z"/></clipPath>
<path d="M771.3,1242.4 L830.8,1162.5 L852,1173.1 L796.8,1253.1 Z" fill="#fff"/>
<path d="M886,1160 L915.7,1160 L915.7,1208 L886,1208 Z" fill="#fff"/>
<g clip-path="url(#tt)"><rect x="760" y="1219.1" width="100" height="50" fill="#dcdcdc"/><path d="M770,1248 Q776,1243 782,1246 Q788,1243 796,1249 L798,1262 L768,1262 Z" fill="#6a6a6a" stroke="#333" stroke-width="0.8"/></g>
<line x1="788.3" y1="1219.1" x2="819.4" y2="1219.1" stroke="#000" stroke-width="1.6" />
<path d="M830.8,1162.5 L771.3,1242.4 Q766,1254 778,1258 Q789,1260 796.8,1253.1 L852,1173.1" stroke="#000" stroke-width="2.0" fill="none" />
<defs><pattern id="hat3" width="2.6" height="2.6" patternUnits="userSpaceOnUse" patternTransform="rotate(-40)"><rect width="2.6" height="2.6" fill="#fff"/><rect width="1.2" height="2.6" fill="#222"/></pattern></defs>
<path d="M833.6,1150.5 L862.6,1166 L852,1172.4 L830,1161.1 Z" stroke="#000" stroke-width="1.3" fill="url(#hat3)" />
<path d="M886,1207.8 L915.7,1207.8 L915.7,1259 Q915.7,1273.6 900.8,1273.6 Q886,1273.6 886,1259 Z" fill="#dcdcdc"/>
<line x1="886.0" y1="1207.8" x2="915.7" y2="1207.8" stroke="#000" stroke-width="1.3" />
<path d="M882,1158.3 Q886,1158.5 886,1163 L886,1259 Q886,1273.6 900.8,1273.6 Q915.7,1273.6 915.7,1259 L915.7,1163 Q915.7,1158.5 919.5,1158.3" stroke="#000" stroke-width="1.9" fill="none" />
<path d="M826.5,1185.1 L850,1152 Q853.5,1146.9 860,1146.9 L898,1146.9 Q901.5,1146.9 901.5,1150.5 L901.5,1224" stroke="#000" stroke-width="1.3" fill="none" />
<path d="M829.3,1187 L852.5,1154 Q855,1150.3 860,1150.3 L897.5,1150.3 L897.5,1224" stroke="#000" stroke-width="1.3" fill="none" />
<rect x="878.9" y="1170.3" width="7.1" height="24.7" fill="#0a0a0a" stroke="#000" stroke-width="0.6" />
<rect x="915.7" y="1170.3" width="7.0" height="24.7" fill="#0a0a0a" stroke="#000" stroke-width="0.6" />
<line x1="738.4" y1="1201.9" x2="788.3" y2="1231.8" stroke="#000" stroke-width="1.4" />
<line x1="905.7" y1="1226.9" x2="927.0" y2="1226.9" stroke="#000" stroke-width="1.4" />
<line x1="784.0" y1="1252.4" x2="784.0" y2="1284.9" stroke="#000" stroke-width="1.4" />
<rect x="77" y="1378" width="368" height="272" fill="#fafafa"/>
<rect x="80" y="1380" width="60" height="60" fill="#f4f4f4"/>
<rect x="330" y="1380" width="110" height="40" fill="#f4f4f4"/>
<rect x="380" y="1460" width="65" height="60" fill="#f5f5f5"/>
<rect x="82" y="1600" width="80" height="50" fill="#f3f3f3"/>
<rect x="390" y="1610" width="55" height="40" fill="#f4f4f4"/>
<rect x="140" y="1470" width="40" height="40" fill="#f6f6f6"/>
<text x="205.7" y="1401.8" font-size="16.5" font-weight="normal" font-style="normal" font-family='"Liberation Sans", sans-serif' fill="#000" textLength="56.1" lengthAdjust="spacingAndGlyphs" stroke="#000" stroke-width="0.15" stroke-linejoin="round" >Battery</text>
<text x="85.8" y="1451.3" font-size="16.5" font-weight="normal" font-style="normal" font-family='"Liberation Sans", sans-serif' fill="#000" textLength="50.9" lengthAdjust="spacingAndGlyphs" stroke="#000" stroke-width="0.15" stroke-linejoin="round" >Switch</text>
<text x="327.2" y="1452.1" font-size="16.5" font-weight="normal" font-style="normal" font-family='"Liberation Sans", sans-serif' fill="#000" textLength="72.2" lengthAdjust="spacingAndGlyphs" stroke="#000" stroke-width="0.15" stroke-linejoin="round" >Ammeter</text>
<text x="315.6" y="1512.3" font-size="16.5" font-weight="normal" font-style="normal" font-family='"Liberation Sans", sans-serif' fill="#000" textLength="58.2" lengthAdjust="spacingAndGlyphs" stroke="#000" stroke-width="0.15" stroke-linejoin="round" >Carbon</text>
<text x="315.6" y="1532.7" font-size="16.5" font-weight="normal" font-style="normal" font-family='"Liberation Sans", sans-serif' fill="#000" textLength="82.9" lengthAdjust="spacingAndGlyphs" stroke="#000" stroke-width="0.15" stroke-linejoin="round" >electrodes</text>
<text x="93.1" y="1548.7" font-size="16.5" font-weight="normal" font-style="normal" font-family='"Liberation Sans", sans-serif' fill="#000" textLength="64.9" lengthAdjust="spacingAndGlyphs" stroke="#000" stroke-width="0.15" stroke-linejoin="round" >Crucible</text>
<text x="318.5" y="1572.6" font-size="16.5" font-weight="normal" font-style="normal" font-family='"Liberation Sans", sans-serif' fill="#000" textLength="113.5" lengthAdjust="spacingAndGlyphs" stroke="#000" stroke-width="0.15" stroke-linejoin="round" >Molten lead(II)</text>
<text x="318.5" y="1593.8" font-size="16.5" font-weight="normal" font-style="normal" font-family='"Liberation Sans", sans-serif' fill="#000" textLength="110.0" lengthAdjust="spacingAndGlyphs" stroke="#000" stroke-width="0.15" stroke-linejoin="round" >bromide, PbBr</text>
<text x="429.5" y="1596.5" font-size="11" font-weight="normal" font-style="normal" font-family='"Liberation Sans", sans-serif' fill="#000" textLength="8.0" lengthAdjust="spacingAndGlyphs" stroke="#000" stroke-width="0.1" stroke-linejoin="round" >2</text>
<text x="210.9" y="1636.0" font-size="16.5" font-weight="normal" font-style="normal" font-family='"Liberation Sans", sans-serif' fill="#000" textLength="37.2" lengthAdjust="spacingAndGlyphs" stroke="#000" stroke-width="0.15" stroke-linejoin="round" >Heat</text>
<path d="M228.3,1413.4 L151.3,1413.4 L151.3,1438.2" stroke="#000" stroke-width="1.4" fill="none" />
<path d="M151.3,1456.5 L151.3,1481.8 L208.5,1481.8 L208.5,1493.4" stroke="#000" stroke-width="1.4" fill="none" />
<circle cx="151.3" cy="1438.2" r="1.6" fill="#000" stroke="#000" stroke-width="0.5" />
<circle cx="151.3" cy="1456.5" r="1.6" fill="#000" stroke="#000" stroke-width="0.5" />
<line x1="142.5" y1="1442.5" x2="151.3" y2="1456.5" stroke="#000" stroke-width="1.4" />
<path d="M244.3,1413.4 L309.8,1413.4 L309.8,1435.3" stroke="#000" stroke-width="1.4" fill="none" />
<path d="M309.8,1457.3 L309.8,1481.8 L255,1481.8 L255,1493.4" stroke="#000" stroke-width="1.4" fill="none" />
<circle cx="309.8" cy="1446.3" r="11.0" fill="#fff" stroke="#000" stroke-width="1.4" />
<text x="304.5" y="1451.8" font-size="15" font-weight="normal" font-style="normal" font-family='"Liberation Sans", sans-serif' fill="#000" textLength="10.8" lengthAdjust="spacingAndGlyphs" >A</text>
<line x1="229.5" y1="1405.5" x2="229.5" y2="1421.5" stroke="#000" stroke-width="1.2" />
<line x1="234.5" y1="1409.5" x2="234.5" y2="1417.5" stroke="#000" stroke-width="2.2" />
<line x1="239.5" y1="1405.5" x2="239.5" y2="1421.5" stroke="#000" stroke-width="1.2" />
<line x1="244.0" y1="1409.5" x2="244.0" y2="1417.5" stroke="#000" stroke-width="2.2" />
<path d="M180.3,1526.9 C181,1560 188,1578 199.3,1580.7 L266.2,1580.7 C277,1578 282,1560 282.2,1526.9" stroke="#000" stroke-width="1.5" fill="none" />
<line x1="183.0" y1="1549.6" x2="280.0" y2="1549.6" stroke="#444" stroke-width="0.9" />
<rect x="203.6" y="1493.4" width="10.8" height="74.2" fill="#7a7a7a" stroke="#000" stroke-width="1.3" />
<rect x="250.2" y="1493.4" width="9.6" height="74.2" fill="#7a7a7a" stroke="#000" stroke-width="1.3" />
<circle cx="200.7" cy="1586.5" r="5.5" fill="#444" stroke="#000" stroke-width="1.3" />
<circle cx="262.7" cy="1586.5" r="5.5" fill="#444" stroke="#000" stroke-width="1.3" />
<rect x="177.4" y="1593.2" width="37.9" height="8.4" fill="#fff" stroke="#000" stroke-width="1.5" />
<rect x="248.1" y="1593.2" width="37.8" height="8.4" fill="#fff" stroke="#000" stroke-width="1.5" />
<path d="M190.5,1601.6 L200.7,1601.6 L189.1,1641.8 L180.3,1641.8 Z" stroke="#000" stroke-width="1.4" fill="#fff" />
<path d="M263.2,1601.6 L273.4,1601.6 L283.6,1641.8 L273.4,1641.8 Z" stroke="#000" stroke-width="1.4" fill="#fff" />
<line x1="230.7" y1="1618.5" x2="230.7" y2="1599.0" stroke="#000" stroke-width="1.2" />
<path d="M228.5,1600.5 L230.7,1593.8 L232.9,1600.5 Z" stroke="#000" stroke-width="0.6" fill="#000" />
<line x1="311.2" y1="1505.7" x2="212.3" y2="1505.7" stroke="#000" stroke-width="1.2" />
<line x1="311.2" y1="1505.7" x2="256.0" y2="1511.5" stroke="#000" stroke-width="1.2" />
<line x1="162.0" y1="1542.9" x2="180.3" y2="1542.9" stroke="#000" stroke-width="1.2" />
<line x1="269.0" y1="1563.8" x2="312.7" y2="1563.8" stroke="#000" stroke-width="1.2" />
<rect x="690" y="1426" width="302" height="238" fill="#fbfbfb"/>
<line x1="985.0" y1="1440.0" x2="985.0" y2="1650.0" stroke="#eeeeee" stroke-width="1.2" />
<text x="689.6" y="1497.5" font-size="17.5" font-weight="normal" font-style="normal" font-family='"Liberation Sans", sans-serif' fill="#000" textLength="54.6" lengthAdjust="spacingAndGlyphs" stroke="#000" stroke-width="0.5" stroke-linejoin="round" >carbon</text>
<text x="689.6" y="1516.9" font-size="17.5" font-weight="normal" font-style="normal" font-family='"Liberation Sans", sans-serif' fill="#000" textLength="83.5" lengthAdjust="spacingAndGlyphs" stroke="#000" stroke-width="0.5" stroke-linejoin="round" >electrodes</text>
<text x="922.0" y="1550.8" font-size="17.5" font-weight="normal" font-style="normal" font-family='"Liberation Sans", sans-serif' fill="#000" textLength="73.7" lengthAdjust="spacingAndGlyphs" stroke="#000" stroke-width="0.5" stroke-linejoin="round" >copper(II)</text>
<text x="922.0" y="1574.0" font-size="17.5" font-weight="normal" font-style="normal" font-family='"Liberation Sans", sans-serif' fill="#000" textLength="66.9" lengthAdjust="spacingAndGlyphs" stroke="#000" stroke-width="0.5" stroke-linejoin="round" >sulphate</text>
<text x="922.0" y="1596.1" font-size="17.5" font-weight="normal" font-style="normal" font-family='"Liberation Sans", sans-serif' fill="#000" textLength="62.4" lengthAdjust="spacingAndGlyphs" stroke="#000" stroke-width="0.5" stroke-linejoin="round" >solution</text>
<text x="781.9" y="1657.7" font-size="22.5" font-weight="bold" font-style="normal" font-family='"Liberation Serif", sans-serif' fill="#000" textLength="125.8" lengthAdjust="spacingAndGlyphs" >Diagram (a)</text>
<defs><pattern id="dsh" x="779" y="1474" width="8" height="6.3" patternUnits="userSpaceOnUse"><rect width="8" height="6.3" fill="#f4f4f4"/><path d="M1,2h3.6 M5,5.2h2.8" stroke="#333" stroke-width="1.1"/></pattern></defs>
<path d="M778.6,1474.1 L898.9,1474.1 L898.9,1533 L778.6,1533 Z" fill="url(#dsh)"/>
<rect x="779.5" y="1532.7" width="118.5" height="6.8" fill="#aaaaaa"/>
<line x1="778.6" y1="1474.1" x2="898.9" y2="1474.1" stroke="#000" stroke-width="1.4" />
<path d="M773.1,1452.7 Q778.6,1453 778.6,1458 L778.6,1533 Q778.6,1540.3 786,1540.3 L891.5,1540.3 Q898.9,1540.3 898.9,1533 L898.9,1456 Q898.9,1451 905.2,1450.2" stroke="#000" stroke-width="2.0" fill="none" />
<path d="M803.3,1530.7 L803.3,1438 Q803.3,1425 816.5,1425 Q829.7,1425 829.7,1438 L829.7,1530.7 Z" fill="url(#dsh)" stroke="#000" stroke-width="1.8"/>
<rect x="814.6" y="1486.7" width="5.8" height="67.9" fill="#0a0a0a" stroke="#000" stroke-width="0.6" />
<rect x="859.1" y="1486.7" width="5.8" height="67.9" fill="#0a0a0a" stroke="#000" stroke-width="0.6" />
<line x1="799.5" y1="1552.1" x2="807.5" y2="1552.1" stroke="#000" stroke-width="1.8" />
<line x1="803.5" y1="1548.0" x2="803.5" y2="1556.2" stroke="#000" stroke-width="1.8" />
<line x1="873.5" y1="1552.1" x2="881.5" y2="1552.1" stroke="#000" stroke-width="1.8" />
<path d="M817.5,1554.6 L817.5,1563.4 L761.8,1563.4 L761.8,1580.5" stroke="#000" stroke-width="1.8" fill="none" />
<path d="M761.8,1605.7 L761.8,1621.3 L828.4,1621.3" stroke="#000" stroke-width="1.8" fill="none" />
<path d="M848.6,1621.3 L915.2,1621.3 L915.2,1563.4 L862.4,1563.4 L862.4,1554.6" stroke="#000" stroke-width="1.8" fill="none" />
<circle cx="761.8" cy="1593.1" r="12.6" fill="#fff" stroke="#000" stroke-width="1.8" />
<text x="756.0" y="1599.5" font-size="16.5" font-weight="normal" font-style="normal" font-family='"Liberation Sans", sans-serif' fill="#000" textLength="11.6" lengthAdjust="spacingAndGlyphs" stroke="#000" stroke-width="0.3" stroke-linejoin="round" >A</text>
<line x1="828.4" y1="1612.5" x2="828.4" y2="1631.3" stroke="#000" stroke-width="1.8" />
<line x1="834.7" y1="1615.0" x2="834.7" y2="1628.5" stroke="#000" stroke-width="2.6" />
<line x1="841.0" y1="1612.5" x2="841.0" y2="1631.3" stroke="#000" stroke-width="1.8" />
<line x1="847.3" y1="1615.0" x2="847.3" y2="1628.5" stroke="#000" stroke-width="2.6" />
<line x1="754.2" y1="1494.2" x2="815.8" y2="1495.0" stroke="#000" stroke-width="1.3" />
<line x1="754.2" y1="1494.2" x2="859.1" y2="1506.8" stroke="#000" stroke-width="1.3" />
<line x1="893.3" y1="1514.3" x2="921.5" y2="1545.8" stroke="#000" stroke-width="1.3" />
</svg>
</body></html>
